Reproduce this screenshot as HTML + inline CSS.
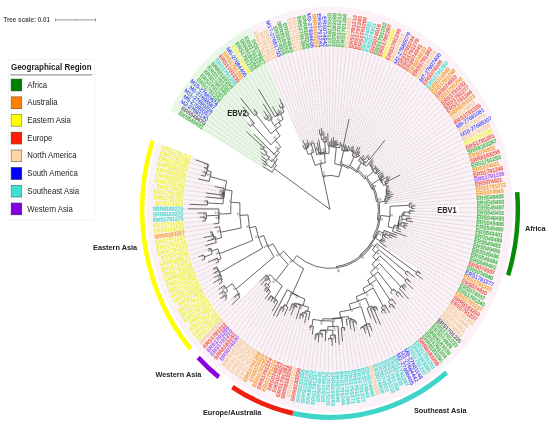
<!DOCTYPE html><html><head><meta charset="utf-8"><style>html,body{margin:0;padding:0;background:#fff;overflow:hidden}svg{display:block}text{font-family:"Liberation Sans",sans-serif}</style></head><body>
<svg width="550" height="425" viewBox="0 0 550 425">
<g transform="scale(0.9030,1)">
<path d="M336.41 149.63L276.86 27.08A202.70 202.70 0 0 1 282.31 24.54L338.19 148.79A66.46 66.46 0 0 0 336.41 149.63ZM337.90 148.26L282.18 24.59A202.70 202.70 0 0 1 287.69 22.21L339.73 147.47A67.06 67.06 0 0 0 337.90 148.26ZM339.45 146.94L287.56 22.26A202.70 202.70 0 0 1 293.14 20.03L341.32 146.19A67.66 67.66 0 0 0 339.45 146.94ZM341.27 146.21L293.01 20.09A202.70 202.70 0 0 1 298.66 18.02L343.15 145.52A67.66 67.66 0 0 0 341.27 146.21ZM342.90 144.94L298.52 18.07A202.70 202.70 0 0 1 304.22 16.17L344.82 144.30A68.29 68.29 0 0 0 342.90 144.94ZM344.78 144.31L304.09 16.21A202.70 202.70 0 0 1 309.84 14.48L346.71 143.73A68.29 68.29 0 0 0 344.78 144.31ZM349.83 154.80L309.71 14.52A202.70 202.70 0 0 1 315.51 12.95L351.46 154.36A56.79 56.79 0 0 0 349.83 154.80ZM350.39 150.35L315.37 12.98A202.70 202.70 0 0 1 321.22 11.58L352.15 149.93A60.94 60.94 0 0 0 350.39 150.35ZM352.11 149.94L321.08 11.62A202.70 202.70 0 0 1 326.96 10.39L353.88 149.57A60.94 60.94 0 0 0 352.11 149.94ZM354.40 152.47L326.82 10.41A202.70 202.70 0 0 1 332.74 9.36L356.09 152.17A57.99 57.99 0 0 0 354.40 152.47ZM353.26 135.16L332.60 9.38A202.70 202.70 0 0 1 338.54 8.49L355.46 134.83A75.23 75.23 0 0 0 353.26 135.16ZM355.41 134.84L338.40 8.51A202.70 202.70 0 0 1 344.37 7.80L357.63 134.58A75.23 75.23 0 0 0 355.41 134.84ZM358.06 139.18L344.23 7.81A202.70 202.70 0 0 1 350.21 7.27L360.14 138.99A70.61 70.61 0 0 0 358.06 139.18ZM360.29 141.61L350.07 7.28A202.70 202.70 0 0 1 356.07 6.92L362.30 141.48A67.99 67.99 0 0 0 360.29 141.61ZM362.47 145.97L355.93 6.92A202.70 202.70 0 0 1 361.94 6.73L364.35 145.91A63.50 63.50 0 0 0 362.47 145.97ZM364.30 145.91L361.80 6.73A202.70 202.70 0 0 1 367.81 6.71L366.19 145.91A63.50 63.50 0 0 0 364.30 145.91ZM366.14 146.27L367.66 6.71A202.70 202.70 0 0 1 373.67 6.87L368.01 146.32A63.14 63.14 0 0 0 366.14 146.27ZM368.00 145.35L373.53 6.86A202.70 202.70 0 0 1 379.53 7.19L369.90 145.45A64.10 64.10 0 0 0 368.00 145.35ZM369.90 144.85L379.39 7.18A202.70 202.70 0 0 1 385.38 7.68L371.81 145.01A64.70 64.70 0 0 0 369.90 144.85ZM371.82 144.41L385.24 7.67A202.70 202.70 0 0 1 391.21 8.34L373.75 144.63A65.30 65.30 0 0 0 371.82 144.41ZM373.70 144.62L391.07 8.33A202.70 202.70 0 0 1 397.02 9.17L375.62 144.89A65.30 65.30 0 0 0 373.70 144.62ZM375.15 147.62L396.88 9.15A202.70 202.70 0 0 1 402.80 10.17L376.97 147.93A62.54 62.54 0 0 0 375.15 147.62ZM377.26 146.18L402.66 10.15A202.70 202.70 0 0 1 408.55 11.34L379.13 146.56A64.32 64.32 0 0 0 377.26 146.18ZM379.08 146.55L408.41 11.31A202.70 202.70 0 0 1 414.27 12.67L380.94 146.98A64.32 64.32 0 0 0 379.08 146.55ZM380.19 149.82L414.13 12.63A202.70 202.70 0 0 1 419.94 14.16L381.95 150.28A61.38 61.38 0 0 0 380.19 149.82ZM382.23 149.11L419.81 14.12A202.70 202.70 0 0 1 425.57 15.82L384.01 149.64A62.58 62.58 0 0 0 382.23 149.11ZM383.97 149.62L425.44 15.78A202.70 202.70 0 0 1 431.15 17.64L385.73 150.20A62.58 62.58 0 0 0 383.97 149.62ZM385.50 150.75L431.02 17.60A202.70 202.70 0 0 1 436.67 19.63L387.23 151.37A61.98 61.98 0 0 0 385.50 150.75ZM387.57 150.34L436.54 19.58A202.70 202.70 0 0 1 442.14 21.77L389.31 151.03A63.06 63.06 0 0 0 387.57 150.34ZM389.61 150.16L442.01 21.71A202.70 202.70 0 0 1 447.54 24.07L391.36 150.90A63.98 63.98 0 0 0 389.61 150.16ZM391.32 150.88L447.41 24.01A202.70 202.70 0 0 1 452.87 26.52L393.04 151.67A63.98 63.98 0 0 0 391.32 150.88ZM392.35 153.03L452.74 26.46A202.70 202.70 0 0 1 458.12 29.13L394.01 153.85A62.46 62.46 0 0 0 392.35 153.03ZM393.30 155.14L458.00 29.06A202.70 202.70 0 0 1 463.30 31.88L394.89 155.99A60.99 60.99 0 0 0 393.30 155.14ZM395.53 154.74L463.18 31.82A202.70 202.70 0 0 1 468.40 34.79L397.14 155.66A62.39 62.39 0 0 0 395.53 154.74ZM397.10 155.64L468.28 34.72A202.70 202.70 0 0 1 473.41 37.85L398.68 156.60A62.39 62.39 0 0 0 397.10 155.64ZM396.36 160.20L473.29 37.77A202.70 202.70 0 0 1 478.33 41.04L397.81 161.14A58.11 58.11 0 0 0 396.36 160.20ZM399.65 158.32L478.22 40.96A202.70 202.70 0 0 1 483.16 44.38L401.15 159.36A61.47 61.47 0 0 0 399.65 158.32ZM402.01 158.06L483.04 44.30A202.70 202.70 0 0 1 487.89 47.86L403.52 159.17A63.03 63.03 0 0 0 402.01 158.06ZM403.48 159.14L487.77 47.77A202.70 202.70 0 0 1 492.51 51.47L404.96 160.29A63.03 63.03 0 0 0 403.48 159.14ZM406.91 157.80L492.40 51.38A202.70 202.70 0 0 1 497.03 55.21L408.42 159.05A66.20 66.20 0 0 0 406.91 157.80ZM408.38 159.02L496.92 55.12A202.70 202.70 0 0 1 501.44 59.09L409.86 160.31A66.20 66.20 0 0 0 408.38 159.02ZM404.93 165.70L501.33 58.99A202.70 202.70 0 0 1 505.73 63.09L406.21 166.89A58.90 58.90 0 0 0 404.93 165.70ZM409.30 163.60L505.63 62.99A202.70 202.70 0 0 1 509.91 67.21L410.64 164.92A63.41 63.41 0 0 0 409.30 163.60ZM410.61 164.89L509.81 67.11A202.70 202.70 0 0 1 513.97 71.45L411.91 166.25A63.41 63.41 0 0 0 410.61 164.89ZM411.44 166.62L513.87 71.35A202.70 202.70 0 0 1 517.90 75.81L412.69 168.01A62.81 62.81 0 0 0 411.44 166.62ZM414.38 166.46L517.80 75.70A202.70 202.70 0 0 1 521.70 80.28L415.63 167.93A65.10 65.10 0 0 0 414.38 166.46ZM415.60 167.89L521.61 80.17A202.70 202.70 0 0 1 525.37 84.85L416.81 169.40A65.10 65.10 0 0 0 415.60 167.89ZM415.85 170.09L525.28 84.74A202.70 202.70 0 0 1 528.91 89.54L416.99 171.61A63.91 63.91 0 0 0 415.85 170.09ZM416.96 171.57L528.83 89.42A202.70 202.70 0 0 1 532.31 94.32L418.06 173.11A63.91 63.91 0 0 0 416.96 171.57ZM417.31 173.58L532.23 94.20A202.70 202.70 0 0 1 535.57 99.20L418.35 175.13A63.03 63.03 0 0 0 417.31 173.58ZM418.29 175.12L535.50 99.08A202.70 202.70 0 0 1 538.69 104.17L419.29 176.70A62.99 62.99 0 0 0 418.29 175.12ZM421.41 175.35L538.62 104.05A202.70 202.70 0 0 1 541.67 109.23L422.40 177.03A65.51 65.51 0 0 0 421.41 175.35ZM422.37 176.99L541.60 109.10A202.70 202.70 0 0 1 544.49 114.37L423.31 178.69A65.51 65.51 0 0 0 422.37 176.99ZM422.30 179.18L544.42 114.24A202.70 202.70 0 0 1 547.17 119.59L423.17 180.87A64.38 64.38 0 0 0 422.30 179.18ZM428.17 178.35L547.10 119.46A202.70 202.70 0 0 1 549.69 124.89L429.06 180.22A69.99 69.99 0 0 0 428.17 178.35ZM429.04 180.18L549.63 124.76A202.70 202.70 0 0 1 552.06 130.26L429.88 182.07A69.99 69.99 0 0 0 429.04 180.18ZM427.37 183.09L552.00 130.13A202.70 202.70 0 0 1 554.27 135.69L428.12 184.94A67.28 67.28 0 0 0 427.37 183.09ZM427.42 185.16L554.22 135.56A202.70 202.70 0 0 1 556.33 141.19L428.11 187.01A66.54 66.54 0 0 0 427.42 185.16ZM427.68 187.11L556.28 141.06A202.70 202.70 0 0 1 558.22 146.74L428.32 188.97A66.11 66.11 0 0 0 427.68 187.11ZM428.30 188.92L558.18 146.61A202.70 202.70 0 0 1 559.95 152.35L428.88 190.79A66.11 66.11 0 0 0 428.30 188.92ZM428.29 190.92L559.91 152.21A202.70 202.70 0 0 1 561.52 158.01L428.81 192.79A65.51 65.51 0 0 0 428.29 190.92ZM429.26 192.63L561.49 157.87A202.70 202.70 0 0 1 562.93 163.70L429.73 194.53A65.98 65.98 0 0 0 429.26 192.63ZM429.72 194.48L562.90 163.56A202.70 202.70 0 0 1 564.17 169.44L430.13 196.39A65.98 65.98 0 0 0 429.72 194.48ZM429.70 196.43L564.14 169.30A202.70 202.70 0 0 1 565.24 175.21L430.06 198.34A65.55 65.55 0 0 0 429.70 196.43ZM430.05 198.30L565.22 175.07A202.70 202.70 0 0 1 566.15 181.01L430.35 200.22A65.55 65.55 0 0 0 430.05 198.30ZM427.49 200.58L566.13 180.87A202.70 202.70 0 0 1 566.89 186.83L427.72 202.42A62.66 62.66 0 0 0 427.49 200.58ZM426.51 202.51L566.87 186.69A202.70 202.70 0 0 1 567.46 192.67L426.69 204.33A61.45 61.45 0 0 0 426.51 202.51ZM453.16 202.07L567.44 192.53A202.70 202.70 0 0 1 567.86 198.52L453.34 204.68A88.02 88.02 0 0 0 453.16 202.07ZM455.85 204.48L567.85 198.38A202.70 202.70 0 0 1 568.09 204.39L455.95 207.16A90.53 90.53 0 0 0 455.85 204.48ZM455.95 207.10L568.08 204.24A202.70 202.70 0 0 1 568.15 210.25L455.98 209.78A90.53 90.53 0 0 0 455.95 207.10ZM453.27 209.71L568.15 210.11A202.70 202.70 0 0 1 568.04 216.12L453.22 212.31A87.82 87.82 0 0 0 453.27 209.71ZM453.23 212.25L568.04 215.98A202.70 202.70 0 0 1 567.76 221.98L453.10 214.85A87.82 87.82 0 0 0 453.23 212.25ZM446.67 214.39L567.77 221.84A202.70 202.70 0 0 1 567.31 227.83L446.49 216.80A81.38 81.38 0 0 0 446.67 214.39ZM450.39 217.10L567.32 227.69A202.70 202.70 0 0 1 566.69 233.67L450.13 219.61A85.29 85.29 0 0 0 450.39 217.10ZM450.13 219.55L566.71 233.53A202.70 202.70 0 0 1 565.90 239.48L449.79 222.06A85.29 85.29 0 0 0 450.13 219.55ZM444.63 221.23L565.92 239.34A202.70 202.70 0 0 1 564.95 245.27L444.24 223.57A80.06 80.06 0 0 0 444.63 221.23ZM447.63 224.12L564.97 245.14A202.70 202.70 0 0 1 563.83 251.03L447.16 226.55A83.49 83.49 0 0 0 447.63 224.12ZM447.17 226.49L563.86 250.90A202.70 202.70 0 0 1 562.54 256.76L446.62 228.91A83.49 83.49 0 0 0 447.17 226.49ZM441.30 227.57L562.57 256.62A202.70 202.70 0 0 1 561.08 262.45L440.73 229.81A78.00 78.00 0 0 0 441.30 227.57ZM439.59 229.45L561.12 262.31A202.70 202.70 0 0 1 559.47 268.09L438.96 231.64A76.80 76.80 0 0 0 439.59 229.45ZM435.16 230.43L559.51 267.95A202.70 202.70 0 0 1 557.69 273.68L434.50 232.49A72.81 72.81 0 0 0 435.16 230.43ZM425.81 229.54L557.73 273.54A202.70 202.70 0 0 1 555.75 279.22L425.19 231.32A63.63 63.63 0 0 0 425.81 229.54ZM431.86 233.71L555.79 279.08A202.70 202.70 0 0 1 553.64 284.70L431.11 235.67A70.72 70.72 0 0 0 431.86 233.71ZM431.12 235.62L553.70 284.56A202.70 202.70 0 0 1 551.39 290.11L430.32 237.56A70.72 70.72 0 0 0 431.12 235.62ZM425.89 235.59L551.44 289.98A202.70 202.70 0 0 1 548.97 295.46L425.09 237.37A65.87 65.87 0 0 0 425.89 235.59ZM423.62 236.63L549.03 295.33A202.70 202.70 0 0 1 546.40 300.74L422.79 238.34A64.23 64.23 0 0 0 423.62 236.63ZM423.12 238.46L546.47 300.61A202.70 202.70 0 0 1 543.68 305.94L422.23 240.16A64.58 64.58 0 0 0 423.12 238.46ZM422.25 240.12L543.75 305.81A202.70 202.70 0 0 1 540.82 311.06L421.32 241.79A64.58 64.58 0 0 0 422.25 240.12ZM420.82 241.45L540.89 310.93A202.70 202.70 0 0 1 537.80 316.09L419.85 243.07A63.98 63.98 0 0 0 420.82 241.45ZM463.07 269.74L537.87 315.97A202.70 202.70 0 0 1 534.64 321.03L461.24 272.60A114.76 114.76 0 0 0 463.07 269.74ZM461.28 272.54L534.72 320.92A202.70 202.70 0 0 1 531.34 325.88L459.37 275.35A114.76 114.76 0 0 0 461.28 272.54ZM451.23 269.55L531.42 325.77A202.70 202.70 0 0 1 527.89 330.64L449.41 272.06A104.77 104.77 0 0 0 451.23 269.55ZM449.45 272.00L527.98 330.52A202.70 202.70 0 0 1 524.32 335.29L447.56 274.47A104.77 104.77 0 0 0 449.45 272.00ZM451.43 277.44L524.40 335.18A202.70 202.70 0 0 1 520.61 339.84L449.38 279.96A109.65 109.65 0 0 0 451.43 277.44ZM449.43 279.90L520.70 339.73A202.70 202.70 0 0 1 516.77 344.27L447.30 282.36A109.65 109.65 0 0 0 449.43 279.90ZM448.36 283.20L516.86 344.17A202.70 202.70 0 0 1 512.80 348.60L446.14 285.62A111.00 111.00 0 0 0 448.36 283.20ZM446.19 285.57L512.89 348.49A202.70 202.70 0 0 1 508.71 352.80L443.90 287.93A111.00 111.00 0 0 0 446.19 285.57ZM443.53 287.45L508.81 352.70A202.70 202.70 0 0 1 504.50 356.89L441.18 289.73A110.40 110.40 0 0 0 443.53 287.45ZM442.05 290.54L504.60 356.79A202.70 202.70 0 0 1 500.17 360.85L439.61 292.77A111.58 111.58 0 0 0 442.05 290.54ZM439.67 292.72L500.27 360.76A202.70 202.70 0 0 1 495.73 364.69L437.16 294.88A111.58 111.58 0 0 0 439.67 292.72ZM433.80 290.76L495.84 364.60A202.70 202.70 0 0 1 491.18 368.40L431.36 292.75A106.27 106.27 0 0 0 433.80 290.76ZM435.36 297.68L491.29 368.31A202.70 202.70 0 0 1 486.52 371.97L432.71 299.72A112.61 112.61 0 0 0 435.36 297.68ZM435.31 303.06L486.64 371.88A202.70 202.70 0 0 1 481.77 375.41L432.50 305.09A116.84 116.84 0 0 0 435.31 303.06ZM432.57 305.05L481.88 375.32A202.70 202.70 0 0 1 476.91 378.70L429.70 306.99A116.84 116.84 0 0 0 432.57 305.05ZM427.86 304.06L477.03 378.62A202.70 202.70 0 0 1 471.96 381.86L425.03 305.87A113.38 113.38 0 0 0 427.86 304.06ZM426.78 308.54L472.08 381.78A202.70 202.70 0 0 1 466.93 384.87L423.81 310.32A116.58 116.58 0 0 0 426.78 308.54ZM423.88 310.28L467.05 384.80A202.70 202.70 0 0 1 461.80 387.73L420.87 311.97A116.58 116.58 0 0 0 423.88 310.28ZM417.62 305.80L461.93 387.67A202.70 202.70 0 0 1 456.60 390.45L414.74 307.31A109.62 109.62 0 0 0 417.62 305.80ZM414.81 307.27L456.73 390.38A202.70 202.70 0 0 1 451.32 393.01L411.89 308.70A109.62 109.62 0 0 0 414.81 307.27ZM411.70 308.12L451.45 392.95A202.70 202.70 0 0 1 445.97 395.42L408.76 309.45A109.02 109.02 0 0 0 411.70 308.12ZM408.03 307.59L446.10 395.36A202.70 202.70 0 0 1 440.55 397.67L405.10 308.81A107.03 107.03 0 0 0 408.03 307.59ZM410.72 322.66L440.68 397.62A202.70 202.70 0 0 1 435.07 399.77L407.35 323.96A121.98 121.98 0 0 0 410.72 322.66ZM407.63 324.49L435.20 399.72A202.70 202.70 0 0 1 429.53 401.70L404.20 325.69A122.58 122.58 0 0 0 407.63 324.49ZM404.47 326.23L429.67 401.66A202.70 202.70 0 0 1 423.94 403.48L400.99 327.34A123.18 123.18 0 0 0 404.47 326.23ZM401.07 327.31L424.07 403.44A202.70 202.70 0 0 1 418.30 405.09L397.56 328.32A123.18 123.18 0 0 0 401.07 327.31ZM395.51 320.42L418.43 405.05A202.70 202.70 0 0 1 412.61 406.54L392.21 321.26A115.02 115.02 0 0 0 395.51 320.42ZM392.29 321.24L412.75 406.50A202.70 202.70 0 0 1 406.88 407.82L388.96 321.99A115.02 115.02 0 0 0 392.29 321.24ZM388.61 319.95L407.02 407.79A202.70 202.70 0 0 1 401.12 408.94L385.33 320.59A112.95 112.95 0 0 0 388.61 319.95ZM385.12 319.02L401.26 408.91A202.70 202.70 0 0 1 395.33 409.89L381.87 319.55A111.37 111.37 0 0 0 385.12 319.02ZM383.08 327.14L395.47 409.86A202.70 202.70 0 0 1 389.51 410.67L379.58 327.61A119.05 119.05 0 0 0 383.08 327.14ZM379.67 327.60L389.65 410.65A202.70 202.70 0 0 1 383.68 411.28L376.16 327.97A119.05 119.05 0 0 0 379.67 327.60ZM376.07 326.16L383.82 411.27A202.70 202.70 0 0 1 377.83 411.72L372.61 326.42A117.24 117.24 0 0 0 376.07 326.16ZM373.21 334.90L377.97 411.71A202.70 202.70 0 0 1 371.96 412.00L369.49 335.07A125.74 125.74 0 0 0 373.21 334.90ZM369.68 338.29L372.11 411.99A202.70 202.70 0 0 1 366.10 412.10L365.86 338.36A128.96 128.96 0 0 0 369.68 338.29ZM365.95 338.36L366.24 412.10A202.70 202.70 0 0 1 360.23 412.03L362.13 338.32A128.96 128.96 0 0 0 365.95 338.36ZM362.41 330.77L360.37 412.04A202.70 202.70 0 0 1 354.37 411.80L358.81 330.63A121.41 121.41 0 0 0 362.41 330.77ZM358.73 333.71L354.51 411.80A202.70 202.70 0 0 1 348.51 411.39L355.05 333.46A124.49 124.49 0 0 0 358.73 333.71ZM355.02 334.76L348.65 411.40A202.70 202.70 0 0 1 342.67 410.82L351.31 334.40A125.80 125.80 0 0 0 355.02 334.76ZM351.40 334.41L342.81 410.83A202.70 202.70 0 0 1 336.85 410.07L347.70 333.94A125.80 125.80 0 0 0 351.40 334.41ZM348.81 326.73L336.99 410.09A202.70 202.70 0 0 1 331.05 409.16L345.34 326.19A118.50 118.50 0 0 0 348.81 326.73ZM345.42 326.20L331.19 409.18A202.70 202.70 0 0 1 325.29 408.08L341.97 325.56A118.50 118.50 0 0 0 345.42 326.20ZM344.74 312.21L325.42 408.11A202.70 202.70 0 0 1 319.55 406.84L341.70 311.55A104.87 104.87 0 0 0 344.74 312.21ZM341.22 313.97L319.69 406.87A202.70 202.70 0 0 1 313.86 405.42L338.13 313.20A107.34 107.34 0 0 0 341.22 313.97ZM337.59 315.54L313.99 405.46A202.70 202.70 0 0 1 308.20 403.85L334.46 314.67A109.73 109.73 0 0 0 337.59 315.54ZM334.53 314.69L308.34 403.89A202.70 202.70 0 0 1 302.60 402.11L331.42 313.72A109.73 109.73 0 0 0 334.53 314.69ZM334.10 305.74L302.73 402.15A202.70 202.70 0 0 1 297.05 400.21L331.26 304.77A101.31 101.31 0 0 0 334.10 305.74ZM330.52 307.04L297.18 400.26A202.70 202.70 0 0 1 291.55 398.15L327.64 305.97A103.70 103.70 0 0 0 330.52 307.04ZM327.71 305.99L291.68 398.20A202.70 202.70 0 0 1 286.12 395.93L324.86 304.83A103.70 103.70 0 0 0 327.71 305.99ZM325.16 304.31L286.25 395.99A202.70 202.70 0 0 1 280.75 393.56L322.37 303.07A103.10 103.10 0 0 0 325.16 304.31ZM320.32 307.71L280.88 393.62A202.70 202.70 0 0 1 275.46 391.03L317.42 306.33A108.18 108.18 0 0 0 320.32 307.71ZM316.08 309.21L275.58 391.09A202.70 202.70 0 0 1 270.24 388.35L313.15 307.70A111.35 111.35 0 0 0 316.08 309.21ZM313.22 307.74L270.36 388.41A202.70 202.70 0 0 1 265.10 385.52L310.32 306.14A111.35 111.35 0 0 0 313.22 307.74ZM319.34 290.45L265.22 385.59A202.70 202.70 0 0 1 260.04 382.54L316.96 289.04A93.24 93.24 0 0 0 319.34 290.45ZM309.01 302.25L260.16 382.61A202.70 202.70 0 0 1 255.07 379.41L306.28 300.54A108.66 108.66 0 0 0 309.01 302.25ZM306.34 300.58L255.19 379.49A202.70 202.70 0 0 1 250.20 376.15L303.67 298.79A108.66 108.66 0 0 0 306.34 300.58ZM303.73 298.83L250.31 376.23A202.70 202.70 0 0 1 245.42 372.74L301.10 296.96A108.66 108.66 0 0 0 303.73 298.83ZM301.17 297.01L245.53 372.82A202.70 202.70 0 0 1 240.74 369.20L298.60 295.06A108.66 108.66 0 0 0 301.17 297.01ZM300.67 292.53L240.85 369.28A202.70 202.70 0 0 1 236.17 365.52L298.23 290.57A105.39 105.39 0 0 0 300.67 292.53ZM298.29 290.62L236.28 365.61A202.70 202.70 0 0 1 231.70 361.71L295.91 288.59A105.39 105.39 0 0 0 298.29 290.62ZM296.36 288.19L231.81 361.81A202.70 202.70 0 0 1 227.35 357.78L294.06 286.11A104.79 104.79 0 0 0 296.36 288.19ZM295.93 284.20L227.45 357.87A202.70 202.70 0 0 1 223.11 353.72L293.74 282.10A102.11 102.11 0 0 0 295.93 284.20ZM296.91 278.99L223.21 353.82A202.70 202.70 0 0 1 218.99 349.54L294.88 276.92A97.67 97.67 0 0 0 296.91 278.99ZM295.82 276.12L219.09 349.64A202.70 202.70 0 0 1 215.00 345.24L293.87 274.03A96.44 96.44 0 0 0 295.82 276.12ZM267.04 298.38L215.09 345.34A202.70 202.70 0 0 1 211.13 340.83L264.44 295.42A132.67 132.67 0 0 0 267.04 298.38ZM264.50 295.49L211.22 340.93A202.70 202.70 0 0 1 207.39 336.30L262.00 292.46A132.67 132.67 0 0 0 264.50 295.49ZM252.61 300.12L207.48 336.41A202.70 202.70 0 0 1 203.78 331.68L249.97 296.74A144.78 144.78 0 0 0 252.61 300.12ZM250.04 296.82L203.87 331.79A202.70 202.70 0 0 1 200.31 326.94L247.49 293.36A144.78 144.78 0 0 0 250.04 296.82ZM248.86 292.51L200.39 327.06A202.70 202.70 0 0 1 196.98 322.11L246.45 289.01A143.17 143.17 0 0 0 248.86 292.51ZM249.39 287.17L197.06 322.23A202.70 202.70 0 0 1 193.78 317.19L247.14 283.69A139.70 139.70 0 0 0 249.39 287.17ZM247.31 283.70L193.86 317.31A202.70 202.70 0 0 1 190.74 312.18L245.16 280.16A139.56 139.56 0 0 0 247.31 283.70ZM245.21 280.24L190.81 312.30A202.70 202.70 0 0 1 187.83 307.08L243.16 276.65A139.56 139.56 0 0 0 245.21 280.24ZM244.27 276.15L187.90 307.20A202.70 202.70 0 0 1 185.08 301.89L242.34 272.53A138.35 138.35 0 0 0 244.27 276.15ZM242.38 272.62L185.15 302.02A202.70 202.70 0 0 1 182.48 296.63L240.56 268.94A138.35 138.35 0 0 0 242.38 272.62ZM240.61 269.03L182.54 296.76A202.70 202.70 0 0 1 180.03 291.30L238.89 265.30A138.35 138.35 0 0 0 240.61 269.03ZM242.96 263.61L180.09 291.43A202.70 202.70 0 0 1 177.74 285.90L241.41 259.95A133.95 133.95 0 0 0 242.96 263.61ZM241.44 260.04L177.79 286.03A202.70 202.70 0 0 1 175.60 280.43L240.00 256.34A133.95 133.95 0 0 0 241.44 260.04ZM227.84 261.00L175.65 280.57A202.70 202.70 0 0 1 173.63 274.91L226.37 256.90A146.97 146.97 0 0 0 227.84 261.00ZM226.40 256.99L173.67 275.04A202.70 202.70 0 0 1 171.81 269.33L225.05 252.85A146.97 146.97 0 0 0 226.40 256.99ZM233.88 250.22L171.85 269.46A202.70 202.70 0 0 1 170.16 263.70L232.73 246.30A137.75 137.75 0 0 0 233.88 250.22ZM239.98 244.38L170.19 263.83A202.70 202.70 0 0 1 168.67 258.02L239.00 240.64A130.25 130.25 0 0 0 239.98 244.38ZM237.49 241.11L168.70 258.16A202.70 202.70 0 0 1 167.34 252.30L236.60 237.30A131.83 131.83 0 0 0 237.49 241.11ZM236.03 237.52L167.37 252.44A202.70 202.70 0 0 1 166.18 246.55L235.26 233.67A132.43 132.43 0 0 0 236.03 237.52ZM235.28 233.76L166.21 246.69A202.70 202.70 0 0 1 165.19 240.77L234.61 229.89A132.43 132.43 0 0 0 235.28 233.76ZM243.58 228.58L165.21 240.91A202.70 202.70 0 0 1 164.37 234.96L243.06 224.96A123.37 123.37 0 0 0 243.58 228.58ZM242.74 225.08L164.38 235.10A202.70 202.70 0 0 1 163.71 229.13L242.33 221.44A123.70 123.70 0 0 0 242.74 225.08ZM227.43 222.99L163.72 229.27A202.70 202.70 0 0 1 163.22 223.28L227.09 218.90A138.69 138.69 0 0 0 227.43 222.99ZM227.09 218.99L163.23 223.42A202.70 202.70 0 0 1 162.91 217.42L226.87 214.89A138.69 138.69 0 0 0 227.09 218.99ZM228.46 214.92L162.91 217.56A202.70 202.70 0 0 1 162.76 211.55L228.35 210.86A137.10 137.10 0 0 0 228.46 214.92ZM242.35 210.79L162.76 211.69A202.70 202.70 0 0 1 162.78 205.68L242.37 207.14A123.10 123.10 0 0 0 242.35 210.79ZM229.66 207.00L162.78 205.82A202.70 202.70 0 0 1 162.98 199.82L229.79 202.98A135.81 135.81 0 0 0 229.66 207.00ZM229.79 203.07L162.97 199.96A202.70 202.70 0 0 1 163.34 193.96L230.03 199.06A135.81 135.81 0 0 0 229.79 203.07ZM245.99 200.36L163.33 194.10A202.70 202.70 0 0 1 163.87 188.12L246.31 196.82A119.80 119.80 0 0 0 245.99 200.36ZM245.71 196.84L163.85 188.26A202.70 202.70 0 0 1 164.57 182.29L246.13 193.30A120.40 120.40 0 0 0 245.71 196.84ZM246.12 193.38L164.55 182.43A202.70 202.70 0 0 1 165.44 176.49L246.65 189.85A120.40 120.40 0 0 0 246.12 193.38ZM247.82 190.13L165.42 176.63A202.70 202.70 0 0 1 166.47 170.71L248.44 186.65A119.20 119.20 0 0 0 247.82 190.13ZM231.18 183.39L166.45 170.85A202.70 202.70 0 0 1 167.68 164.97L232.01 179.42A136.76 136.76 0 0 0 231.18 183.39ZM226.73 178.34L167.65 165.11A202.70 202.70 0 0 1 169.05 159.26L227.71 174.24A142.15 142.15 0 0 0 226.73 178.34ZM227.69 174.33L169.01 159.40A202.70 202.70 0 0 1 170.58 153.60L228.79 170.27A142.15 142.15 0 0 0 227.69 174.33ZM228.76 170.36L170.54 153.73A202.70 202.70 0 0 1 172.28 147.98L229.98 166.33A142.15 142.15 0 0 0 228.76 170.36ZM229.95 166.42L172.24 148.11A202.70 202.70 0 0 1 174.14 142.41L231.28 162.42A142.15 142.15 0 0 0 229.95 166.42Z" fill="#faf2f7"/>
<path d="M300.88 173.24L188.59 110.35A202.70 202.70 0 0 1 191.61 105.16L301.98 171.34A74.00 74.00 0 0 0 300.88 173.24ZM293.67 166.43L191.54 105.28A202.70 202.70 0 0 1 194.70 100.17L294.98 164.32A83.66 83.66 0 0 0 293.67 166.43ZM294.94 164.37L194.62 100.29A202.70 202.70 0 0 1 197.93 95.27L296.31 162.30A83.66 83.66 0 0 0 294.94 164.37ZM295.12 161.56L197.85 95.39A202.70 202.70 0 0 1 201.31 90.47L296.57 159.50A85.05 85.05 0 0 0 295.12 161.56ZM292.34 156.50L201.22 90.58A202.70 202.70 0 0 1 204.82 85.77L293.94 154.36A90.24 90.24 0 0 0 292.34 156.50ZM289.52 151.04L204.73 85.88A202.70 202.70 0 0 1 208.46 81.17L291.28 148.82A95.76 95.76 0 0 0 289.52 151.04ZM291.24 148.87L208.37 81.28A202.70 202.70 0 0 1 212.24 76.68L293.07 146.70A95.76 95.76 0 0 0 291.24 148.87ZM302.68 155.10L212.15 76.79A202.70 202.70 0 0 1 216.15 72.30L304.31 153.26A83.00 83.00 0 0 0 302.68 155.10ZM276.39 127.73L216.05 72.40A202.70 202.70 0 0 1 220.18 68.03L278.85 125.12A120.84 120.84 0 0 0 276.39 127.73ZM271.37 117.98L220.08 68.14A202.70 202.70 0 0 1 224.33 63.89L274.12 115.23A131.18 131.18 0 0 0 271.37 117.98ZM274.06 115.29L224.23 63.99A202.70 202.70 0 0 1 228.60 59.86L276.89 112.62A131.18 131.18 0 0 0 274.06 115.29ZM280.75 116.97L228.50 59.96A202.70 202.70 0 0 1 232.99 55.97L283.52 114.50A125.37 125.37 0 0 0 280.75 116.97ZM283.46 114.56L232.88 56.06A202.70 202.70 0 0 1 237.49 52.20L286.31 112.17A125.37 125.37 0 0 0 283.46 114.56ZM293.14 120.69L237.38 52.29A202.70 202.70 0 0 1 242.09 48.56L295.80 118.59A114.44 114.44 0 0 0 293.14 120.69ZM295.74 118.64L241.98 48.64A202.70 202.70 0 0 1 246.80 45.05L298.46 116.61A114.44 114.44 0 0 0 295.74 118.64ZM300.06 118.96L246.68 45.14A202.70 202.70 0 0 1 251.61 41.69L302.77 117.06A111.60 111.60 0 0 0 300.06 118.96ZM303.10 117.68L251.49 41.77A202.70 202.70 0 0 1 256.51 38.46L305.85 115.88A110.90 110.90 0 0 0 303.10 117.68ZM305.46 115.41L256.39 38.54A202.70 202.70 0 0 1 261.50 35.38L308.27 113.68A111.50 111.50 0 0 0 305.46 115.41ZM308.20 113.72L261.38 35.45A202.70 202.70 0 0 1 266.58 32.45L311.06 112.06A111.50 111.50 0 0 0 308.20 113.72ZM309.27 109.02L266.46 32.51A202.70 202.70 0 0 1 271.75 29.66L312.28 107.40A115.03 115.03 0 0 0 309.27 109.02ZM312.20 107.44L271.62 29.72A202.70 202.70 0 0 1 276.99 27.02L315.25 105.90A115.03 115.03 0 0 0 312.20 107.44Z" fill="#e9f8e6"/>
<path d="M290.18 165.77L225.73 128.41M289.77 162.56L228.13 124.40M288.66 158.73L230.65 120.46M288.52 155.38L233.28 116.59M287.71 151.38L236.02 112.80M287.07 147.29L238.87 109.10M272.06 130.89L241.83 105.48M280.35 133.55L244.89 101.94M273.13 122.19L248.05 98.50M268.62 112.48L251.31 95.14M268.04 106.08L254.66 91.89M265.76 97.32L258.11 88.73M280.61 108.27L261.65 85.67M291.64 116.06L265.28 82.72M291.38 109.95L268.98 79.87M290.85 102.93L272.77 77.14M285.72 88.29L276.64 74.51M301.34 105.60L280.58 71.99M308.38 110.71L284.60 69.60M308.41 103.83L288.68 67.31M309.24 97.75L292.82 65.15M335.02 144.34L297.03 63.11M335.07 139.21L301.29 61.19M338.64 142.21L305.61 59.39M339.64 138.82L309.98 57.73M342.85 141.60L314.39 56.18M344.91 141.24L318.85 54.77M347.08 141.39L323.34 53.49M350.29 146.04L327.87 52.33M351.25 141.41L332.44 51.31M352.75 138.38L337.03 50.42M353.37 128.37L341.64 49.66M355.57 126.82L346.27 49.04M358.33 130.61L350.92 48.55M360.91 135.16L355.59 48.20M362.96 131.98L360.26 47.98M365.23 141.05L364.93 47.90M367.31 137.20L369.61 47.95M369.47 136.01L374.28 48.14M371.32 139.42L378.94 48.46M373.22 140.65L383.60 48.92M374.97 142.60L388.23 49.52M377.24 140.89L392.85 50.24M378.83 143.19L397.45 51.10M386.73 117.84L402.02 52.09M382.86 143.27L406.56 53.22M383.59 147.79L411.06 54.47M386.65 144.38L415.53 55.86M388.08 146.26L419.95 57.37M389.17 148.82L424.33 59.02M391.67 147.76L428.66 60.78M393.03 149.42L432.93 62.67M396.99 145.74L437.15 64.69M399.13 146.09L441.31 66.83M399.24 150.10L445.40 69.08M398.99 154.32L449.43 71.45M400.04 156.12L453.39 73.94M402.15 156.30L457.27 76.55M403.99 156.95L461.08 79.26M408.62 154.08L464.81 82.08M409.54 156.16L468.45 85.01M426.81 139.52L472.01 88.05M414.01 157.23L475.48 91.18M412.13 162.07L478.86 94.42M412.31 164.56L482.14 97.75M414.05 165.52L485.32 101.17M417.07 165.44L488.40 104.69M418.13 167.10L491.38 108.29M418.89 168.98L494.26 111.98M421.52 169.49L497.02 115.75M423.12 170.82L499.68 119.60M425.25 171.85L502.22 123.52M424.00 174.96L504.65 127.51M426.40 175.88L506.96 131.58M430.97 175.80L509.16 135.71M431.09 178.11L511.23 139.90M444.12 174.65L513.18 144.15M430.60 182.85L515.01 148.45M430.71 184.98L516.71 152.81M431.58 186.82L518.28 157.21M430.65 189.22L519.73 161.65M432.61 190.73L521.05 166.14M432.02 192.95L522.23 170.66M436.73 193.96L523.29 175.22M435.79 196.29L524.21 179.80M433.33 198.77L525.00 184.41M431.20 201.04L525.66 189.04M430.00 203.09L526.18 193.68M456.63 203.14L526.57 198.34M459.31 205.68L526.82 203.01M460.13 208.40L526.94 207.69M460.11 211.14L526.92 212.36M456.19 213.69L526.77 217.03M455.11 216.25L526.48 221.70M457.02 219.07L526.06 226.36M458.45 221.95L525.50 231.00M452.51 223.73L524.81 235.62M450.63 225.96L523.98 240.23M450.61 228.53L523.02 244.80M444.85 229.67L521.93 249.35M445.22 232.24L520.71 253.86M450.99 236.60L519.36 258.34M440.62 235.72L517.87 262.77M440.23 238.04L516.27 267.16M434.87 238.32L514.53 271.50M431.09 239.00L512.67 275.79M426.56 239.12L510.69 280.03M428.07 242.12L508.58 284.20M425.39 242.97L506.36 288.31M429.20 247.57L504.01 292.36M466.57 273.99L501.55 296.34M468.87 279.76L498.98 300.24M459.79 277.65L496.29 304.07M452.31 276.16L493.50 307.81M455.65 282.98L490.60 311.48M458.25 289.68L487.59 315.06M449.68 286.64L484.48 318.55M449.76 291.33L481.27 321.95M453.21 299.77L477.96 325.26M447.14 298.54L474.56 328.46M441.66 297.55L471.07 331.57M435.02 294.75L467.49 334.58M438.91 305.05L463.82 337.48M437.70 309.34L460.07 340.28M432.98 308.74L456.25 342.96M432.05 313.74L452.34 345.53M426.67 311.74L448.36 347.99M424.20 314.39L444.32 350.33M418.73 311.43L440.20 352.56M422.00 325.79L436.03 354.66M417.26 324.39L431.80 356.64M411.23 319.41L427.50 358.50M412.40 332.10L423.16 360.24M410.32 337.68L418.77 361.84M405.12 334.29L414.34 363.32M399.99 330.17L409.86 364.67M395.02 325.40L405.35 365.89M393.03 332.33L400.80 366.98M388.97 330.57L396.22 367.94M384.69 326.53L391.62 368.76M381.86 331.29L387.00 369.46M379.45 342.42L382.36 370.01M375.82 345.79L377.70 370.43M371.77 343.95L373.03 370.72M367.93 346.96L368.36 370.87M364.01 341.26L363.68 370.89M360.16 342.06L359.01 370.77M356.55 338.55L354.34 370.52M352.31 343.36L349.68 370.13M348.66 341.12L345.04 369.60M345.59 335.90L340.41 368.95M343.12 328.98L335.80 368.16M341.21 321.13L331.22 367.23M337.07 324.09L326.66 366.17M334.93 319.04L322.14 364.98M331.84 317.88L317.65 363.67M327.59 320.15L313.21 362.22M328.19 308.88L308.81 360.64M321.82 316.37L304.45 358.94M320.16 311.84L300.15 357.11M314.45 316.28L295.90 355.16M312.28 313.00L291.71 353.08M305.83 317.73L287.58 350.89M302.20 316.84L283.52 348.58M300.90 312.12L279.52 346.15M302.47 303.46L275.60 343.60M299.10 302.55L271.75 340.94M295.72 301.53L267.99 338.18M292.84 299.78L264.30 335.30M294.38 292.79L260.70 332.32M292.23 290.44L257.18 329.24M292.06 286.05L253.76 326.05M287.99 285.75L250.43 322.77M287.08 282.29L247.20 319.39M255.83 305.59L244.06 315.92M258.03 298.29L241.03 312.37M247.93 301.06L238.10 308.72M243.00 299.32L235.28 304.99M241.72 294.86L232.57 301.18M241.25 289.98L229.96 297.30M241.57 284.77L227.48 293.34M235.39 283.45L225.10 289.31M235.77 278.35L222.85 285.22M235.35 273.81L220.72 281.06M234.74 269.46L218.70 276.84M238.18 263.48L216.81 272.56M229.34 262.64L215.05 268.23M222.65 260.54L213.41 263.85M218.89 257.15L211.89 259.43M229.24 249.45L210.51 254.96M226.46 245.93L209.25 250.46M228.52 241.19L208.13 245.92M224.39 237.87L207.14 241.35M231.63 232.40L206.28 236.75M236.60 227.72L205.56 232.14M235.48 224.06L204.97 227.50M223.03 221.30L204.51 222.84M220.10 217.31L204.19 218.18M217.79 213.16L204.00 213.51M207.23 208.84L203.95 208.83M209.02 204.32L204.03 204.16M226.78 200.87L204.25 199.49M226.72 196.83L204.61 194.83M227.05 192.81L205.10 190.18M245.33 191.46L205.72 185.54M236.85 186.37L206.48 180.93M218.44 178.65L207.37 176.34M221.37 174.88L208.39 171.78M225.09 171.45L209.55 167.25M224.73 166.94L210.83 162.75M215.68 159.44L212.25 158.29" stroke="#a9a6a9" stroke-width="0.6" stroke-dasharray="0.9 1.1" fill="none"/>
<path d="M301.43 172.29L291.05 166.27M294.32 165.37L290.62 163.08M295.62 163.33L289.49 159.28M300.57 167.93L294.96 164.34M294.32 165.37A83.66 83.66 0 0 1 295.62 163.33M295.84 160.52L289.34 155.96M293.13 155.43L288.51 151.98M290.39 149.92L287.86 147.91M292.15 147.78L272.83 131.54M295.54 152.34L291.26 148.84M290.39 149.92A95.76 95.76 0 0 1 292.15 147.78M298.41 157.06L294.32 153.87M293.13 155.43A90.24 90.24 0 0 1 295.54 152.34M301.16 161.78L297.10 158.77M295.84 160.52A85.05 85.05 0 0 1 298.41 157.06M303.49 154.17L281.09 134.21M277.61 126.42L273.86 122.87M272.74 116.59L269.33 113.18M275.46 113.95L268.73 106.80M281.29 122.68L274.09 115.26M272.74 116.59A131.18 131.18 0 0 1 275.46 113.95M299.96 144.79L279.43 124.53M277.61 126.42A120.84 120.84 0 0 1 281.29 122.68M282.13 115.73L266.42 98.07M284.87 113.35L281.25 109.04M300.08 133.73L283.49 114.53M282.13 115.73A125.37 125.37 0 0 1 284.87 113.35M294.46 119.63L292.26 116.84M297.09 117.61L291.98 110.75M297.50 120.87L295.77 118.61M294.46 119.63A114.44 114.44 0 0 1 297.09 117.61M301.41 118.00L291.42 103.75M303.93 125.54L299.44 119.42M297.50 120.87A111.60 111.60 0 0 1 301.41 118.00M304.47 116.77L286.26 89.13M306.86 114.53L301.87 106.45M309.63 112.88L308.88 111.58M308.54 114.21L308.24 113.70M306.86 114.53A111.50 111.50 0 0 1 309.63 112.88M306.97 116.23L306.49 115.47M304.47 116.77A110.90 110.90 0 0 1 308.54 114.21M310.77 108.20L308.88 104.70M313.72 106.66L309.69 98.65M314.57 111.88L312.24 107.42M310.77 108.20A115.03 115.03 0 0 1 313.72 106.66M313.71 119.18L310.72 113.98M306.97 116.23A110.00 110.00 0 0 1 314.57 111.88M310.91 125.58L308.73 122.23M303.93 125.54A104.00 104.00 0 0 1 313.71 119.18M310.16 135.86L305.36 129.47M300.08 133.73A100.00 100.00 0 0 1 310.91 125.58M310.82 146.91L304.90 140.14M299.96 144.79A92.00 92.00 0 0 1 310.16 135.86M309.15 152.56L307.04 150.43M303.49 154.17A83.00 83.00 0 0 1 310.82 146.91M307.25 158.98L304.98 157.02M301.16 161.78A80.00 80.00 0 0 1 309.15 152.56M306.15 165.13L303.75 163.33M300.57 167.93A77.00 77.00 0 0 1 307.25 158.98M365.45 209.40L303.69 168.64M301.43 172.29A74.00 74.00 0 0 1 306.15 165.13M337.29 149.20L335.44 145.24M338.81 147.86L335.46 140.13M340.38 146.56L339.01 143.14M342.21 145.86L339.98 139.76M341.51 146.76L341.29 146.20M340.38 146.56A67.66 67.66 0 0 1 342.21 145.86M340.38 147.85L340.15 147.30M338.81 147.86A67.06 67.06 0 0 1 341.51 146.76M341.46 154.52L338.83 148.51M337.29 149.20A66.46 66.46 0 0 1 340.38 147.85M343.86 144.61L343.17 142.54M345.74 144.01L345.20 142.20M347.34 152.31L344.80 144.30M343.86 144.61A68.29 68.29 0 0 1 345.74 144.01M348.91 165.41L344.37 153.34M341.46 154.52A59.89 59.89 0 0 1 347.34 152.31M350.64 154.57L347.34 142.35M351.27 150.13L350.52 147.01M352.99 149.75L351.46 142.39M352.77 152.81L352.13 149.93M351.27 150.13A60.94 60.94 0 0 1 352.99 149.75M355.24 152.31L352.93 139.36M354.12 153.14L354.01 152.55M352.77 152.81A57.99 57.99 0 0 1 355.24 152.31M354.36 134.99L353.52 129.36M356.52 134.70L355.69 127.81M356.05 139.42L355.44 134.84M354.36 134.99A75.23 75.23 0 0 1 356.52 134.70M359.10 139.07L358.42 131.60M357.87 141.84L357.57 139.23M356.05 139.42A70.61 70.61 0 0 1 359.10 139.07M361.30 141.54L360.97 136.16M360.49 152.22L359.58 141.67M357.87 141.84A67.99 67.99 0 0 1 361.30 141.54M357.38 153.18L357.30 152.59M354.12 153.14A57.39 57.39 0 0 1 360.49 152.22M354.13 154.43L353.99 153.77M350.64 154.57A56.79 56.79 0 0 1 357.38 153.18M363.41 145.93L362.99 132.98M365.25 145.90L365.23 142.05M364.46 153.29L364.33 145.91M363.41 145.93A63.50 63.50 0 0 1 365.25 145.90M360.27 162.69L359.26 153.62M354.13 154.43A56.12 56.12 0 0 1 364.46 153.29M357.53 176.33L354.50 163.69M348.91 165.41A47.00 47.00 0 0 1 360.27 162.69M367.07 146.28L367.28 138.20M368.95 145.39L369.41 137.00M370.86 144.92L371.23 140.41M372.79 144.51L373.11 141.64M374.66 144.75L374.83 143.59M373.65 145.22L373.73 144.62M372.79 144.51A65.30 65.30 0 0 1 374.66 144.75M372.19 145.65L372.25 145.06M370.86 144.92A64.70 64.70 0 0 1 373.65 145.22M370.50 146.47L370.57 145.50M368.95 145.39A64.10 64.10 0 0 1 372.19 145.65M368.75 146.95L368.79 146.35M367.07 146.28A63.14 63.14 0 0 1 370.50 146.47M376.06 147.77L377.07 141.88M370.58 163.69L372.42 147.25M368.75 146.95A62.54 62.54 0 0 1 376.06 147.77M378.19 146.36L378.64 144.17M380.01 146.75L386.51 118.82M378.35 150.01L379.10 146.55M378.19 146.36A64.32 64.32 0 0 1 380.01 146.75M381.07 150.04L382.60 144.23M383.12 149.37L383.30 148.75M384.85 149.90L386.34 145.33M383.81 150.20L383.99 149.63M383.12 149.37A62.58 62.58 0 0 1 384.85 149.90M386.36 151.06L387.75 147.20M384.90 151.18L385.09 150.62M383.81 150.20A61.98 61.98 0 0 1 386.36 151.06M382.82 151.16L383.00 150.58M381.07 150.04A61.38 61.38 0 0 1 384.90 151.18M377.29 163.40L380.60 150.54M378.35 150.01A60.78 60.78 0 0 1 382.82 151.16M388.44 150.68L388.80 149.75M390.49 150.52L391.27 148.68M392.18 151.27L392.62 150.33M390.97 151.73L391.34 150.89M390.49 150.52A63.98 63.98 0 0 1 392.18 151.27M389.48 151.75L389.71 151.19M388.44 150.68A63.06 63.06 0 0 1 390.97 151.73M393.18 153.43L396.55 146.64M389.96 155.59L391.34 152.56M389.48 151.75A62.46 62.46 0 0 1 393.18 153.43M394.10 155.56L398.66 146.97M396.33 155.20L398.75 150.97M397.89 156.11L398.47 155.17M396.41 156.85L397.12 155.65M396.33 155.20A62.39 62.39 0 0 1 397.89 156.11M394.35 157.81L395.26 156.19M394.10 155.56A60.99 60.99 0 0 1 396.41 156.85M387.60 165.69L392.18 156.65M389.96 155.59A59.14 59.14 0 0 1 394.35 157.81M397.09 160.66L399.50 156.96M400.40 158.83L401.58 157.12M402.77 158.61L403.40 157.75M404.22 159.71L408.01 154.86M402.56 160.40L403.50 159.16M402.77 158.61A63.03 63.03 0 0 1 404.22 159.71M401.14 160.09L401.49 159.60M400.40 158.83A61.47 61.47 0 0 1 402.56 160.40M407.67 158.42L408.90 156.93M409.13 159.66L426.15 140.27M404.95 163.08L408.40 159.03M407.67 158.42A66.20 66.20 0 0 1 409.13 159.66M401.85 163.10L403.07 161.55M401.14 160.09A60.87 60.87 0 0 1 404.95 163.08M405.58 166.29L413.33 157.96M403.23 165.25L403.75 164.66M401.85 163.10A58.90 58.90 0 0 1 405.58 166.29M395.68 168.95L400.24 162.86M397.09 160.66A58.11 58.11 0 0 1 403.23 165.25M409.97 164.26L411.43 162.78M411.26 165.56L411.59 165.25M410.20 165.33L410.62 164.90M409.97 164.26A63.41 63.41 0 0 1 411.26 165.56M412.07 167.31L413.31 166.19M410.71 166.72L411.14 166.31M410.20 165.33A62.81 62.81 0 0 1 412.07 167.31M415.01 167.19L416.31 166.09M416.21 168.64L417.35 167.73M413.39 169.76L415.62 167.91M415.01 167.19A65.10 65.10 0 0 1 416.21 168.64M411.62 168.61L412.07 168.22M410.71 166.72A62.21 62.21 0 0 1 413.39 169.76M416.42 170.85L418.09 169.59M417.52 172.34L420.71 170.07M416.26 172.11L416.98 171.59M416.42 170.85A63.91 63.91 0 0 1 417.52 172.34M417.83 174.35L422.29 171.37M415.90 174.04L417.06 173.22M416.26 172.11A63.03 63.03 0 0 1 417.83 174.35M406.29 177.21L413.84 171.27M411.62 168.61A61.61 61.61 0 0 1 415.90 174.04M418.80 175.90L424.40 172.38M421.91 176.19L423.14 175.46M422.85 177.84L425.53 176.36M421.41 177.56L422.38 177.01M421.91 176.19A65.51 65.51 0 0 1 422.85 177.84M422.74 180.02L430.08 176.26M421.56 179.07L422.09 178.78M421.41 177.56A64.38 64.38 0 0 1 422.74 180.02M428.62 179.28L430.19 178.54M429.47 181.12L443.20 175.06M426.59 181.33L429.05 180.20M428.62 179.28A69.99 69.99 0 0 1 429.47 181.12M427.75 184.01L429.68 183.22M426.51 182.96L427.18 182.66M426.59 181.33A67.28 67.28 0 0 1 427.75 184.01M427.77 186.08L429.78 185.33M424.60 185.54L427.16 184.51M426.51 182.96A66.54 66.54 0 0 1 427.77 186.08M422.46 182.60L423.17 182.26M421.56 179.07A63.78 63.78 0 0 1 424.60 185.54M412.40 183.75L420.73 179.20M418.80 175.90A62.99 62.99 0 0 1 422.46 182.60M428.01 188.04L430.63 187.14M428.60 189.86L429.70 189.52M427.74 189.13L428.31 188.94M428.01 188.04A66.11 66.11 0 0 1 428.60 189.86M428.56 191.85L431.64 191.00M427.59 190.66L428.17 190.49M427.74 189.13A65.51 65.51 0 0 1 428.56 191.85M429.50 193.57L431.05 193.19M429.93 195.44L435.76 194.17M428.68 194.75L429.72 194.50M429.50 193.57A65.98 65.98 0 0 1 429.93 195.44M427.59 192.85L428.17 192.69M427.59 190.66A64.91 64.91 0 0 1 428.68 194.75M429.88 197.39L434.81 196.47M430.21 199.26L432.35 198.92M428.83 198.53L430.05 198.32M429.88 197.39A65.55 65.55 0 0 1 430.21 199.26M426.67 196.03L428.27 195.68M427.59 192.85A64.31 64.31 0 0 1 428.83 198.53M427.61 201.50L430.21 201.17M426.00 198.96L427.20 198.75M426.67 196.03A62.66 62.66 0 0 1 427.61 201.50M426.61 203.42L429.01 203.19M419.95 202.05L426.35 201.18M426.00 198.96A61.45 61.45 0 0 1 426.61 203.42M453.26 203.37L455.63 203.21M455.91 205.82L458.31 205.72M455.98 208.44L459.13 208.41M453.44 207.19L455.95 207.13M455.91 205.82A90.53 90.53 0 0 1 455.98 208.44M432.04 206.28L453.37 205.28M453.26 203.37A88.02 88.02 0 0 1 453.44 207.19M453.26 211.01L459.11 211.12M453.17 213.55L455.19 213.65M446.78 212.07L453.23 212.28M453.26 211.01A87.82 87.82 0 0 1 453.17 213.55M446.59 215.60L454.12 216.17M445.34 213.76L446.70 213.84M446.78 212.07A81.38 81.38 0 0 1 446.59 215.60M450.27 218.36L456.02 218.96M449.97 220.81L457.45 221.82M444.89 218.95L450.13 219.58M450.27 218.36A85.29 85.29 0 0 1 449.97 220.81M442.56 216.13L445.16 216.36M445.34 213.76A80.02 80.02 0 0 1 444.89 218.95M444.44 222.40L451.52 223.56M447.40 225.34L449.65 225.77M446.90 227.70L449.64 228.31M443.80 225.82L447.16 226.52M447.40 225.34A83.49 83.49 0 0 1 446.90 227.70M442.12 223.73L444.14 224.11M444.44 222.40A80.06 80.06 0 0 1 443.80 225.82M441.03 228.69L443.88 229.42M441.03 226.09L441.61 226.22M442.12 223.73A78.00 78.00 0 0 1 441.03 228.69M441.36 221.05L441.95 221.14M442.56 216.13A77.40 77.40 0 0 1 441.03 226.09M439.28 230.54L444.26 231.97M436.57 224.97L440.47 225.83M441.36 221.05A76.80 76.80 0 0 1 439.28 230.54M434.84 231.46L450.04 236.30M429.84 226.65L435.78 228.24M436.57 224.97A72.81 72.81 0 0 1 434.84 231.46M421.62 215.46L431.73 216.55M432.04 206.28A66.66 66.66 0 0 1 429.84 226.65M425.50 230.43L439.68 235.39M431.49 234.69L439.29 237.68M430.73 236.59L433.95 237.94M426.61 233.85L431.12 235.65M431.49 234.69A70.72 70.72 0 0 1 430.73 236.59M425.49 236.48L430.17 238.59M424.56 234.53L426.07 235.17M426.61 233.85A65.87 65.87 0 0 1 425.49 236.48M423.21 237.49L425.66 238.68M423.36 235.77L423.90 236.02M424.56 234.53A64.23 64.23 0 0 1 423.21 237.49M419.36 231.06L424.49 233.12M425.50 230.43A63.63 63.63 0 0 1 423.36 235.77M422.68 239.31L427.18 241.66M421.79 240.95L424.52 242.48M421.72 239.85L422.24 240.14M422.68 239.31A64.58 64.58 0 0 1 421.79 240.95M420.34 242.26L428.34 247.06M415.93 238.16L421.04 241.06M421.72 239.85A63.98 63.98 0 0 1 420.34 242.26M417.23 234.41L417.77 234.67M419.36 231.06A58.10 58.10 0 0 1 415.93 238.16M462.16 271.18L465.72 273.45M460.34 273.95L468.04 279.19M417.21 243.53L461.26 272.57M462.16 271.18A114.76 114.76 0 0 1 460.34 273.95M450.33 270.81L458.98 277.07M448.51 273.24L451.51 275.55M419.16 249.45L449.43 272.03M450.33 270.81A104.77 104.77 0 0 1 448.51 273.24M450.41 278.70L454.88 282.34M448.37 281.13L457.49 289.02M420.58 255.71L449.40 279.93M450.41 278.70A109.65 109.65 0 0 1 448.37 281.13M447.26 284.42L448.94 285.96M445.05 286.76L449.04 290.63M445.73 285.18L446.16 285.59M447.26 284.42A111.00 111.00 0 0 1 445.05 286.76M442.36 288.60L452.52 299.05M420.28 263.46L444.06 286.91M445.73 285.18A110.40 110.40 0 0 1 442.36 288.60M440.84 291.66L446.46 297.80M438.42 293.81L441.00 296.80M436.10 288.78L439.64 292.75M440.84 291.66A111.58 111.58 0 0 1 438.42 293.81M432.59 291.77L434.39 293.97M418.63 271.82L434.36 290.29M436.10 288.78A106.27 106.27 0 0 1 432.59 291.77M434.04 298.71L438.30 304.25M433.91 304.09L437.12 308.53M431.14 306.03L432.42 307.92M430.10 301.60L432.53 305.07M433.91 304.09A116.84 116.84 0 0 1 431.14 306.03M416.93 279.53L432.09 300.18M434.04 298.71A112.61 112.61 0 0 1 430.10 301.60M426.45 304.97L431.51 312.89M425.30 309.44L426.16 310.88M422.38 311.13L423.71 313.51M422.25 307.53L423.85 310.30M425.30 309.44A116.58 116.58 0 0 1 422.38 311.13M413.25 288.01L424.36 306.28M426.45 304.97A113.38 113.38 0 0 1 422.25 307.53M416.19 306.57L418.26 310.54M413.36 308.00L421.56 324.89M414.51 306.76L414.78 307.29M416.19 306.57A109.62 109.62 0 0 1 413.36 308.00M410.23 308.79L416.85 323.48M411.52 306.00L412.38 307.80M414.51 306.76A109.02 109.02 0 0 1 410.23 308.79M406.57 308.21L410.85 318.49M404.98 297.98L409.06 307.14M411.52 306.00A107.03 107.03 0 0 1 406.57 308.21M409.04 323.32L412.04 331.16M405.92 325.10L409.99 336.74M402.74 326.80L404.81 333.34M399.32 327.83L399.72 329.21M400.86 326.75L401.03 327.33M402.74 326.80A123.18 123.18 0 0 1 399.32 327.83M403.21 325.38L403.40 325.95M405.92 325.10A122.58 122.58 0 0 1 400.86 326.75M399.81 306.50L406.14 324.39M409.04 323.32A121.98 121.98 0 0 1 403.21 325.38M393.86 320.85L394.78 324.43M390.63 321.63L392.81 331.35M391.77 319.24L392.25 321.25M393.86 320.85A115.02 115.02 0 0 1 390.63 321.63M386.97 320.28L388.78 329.58M389.04 318.24L389.38 319.79M391.77 319.24A112.95 112.95 0 0 1 386.97 320.28M383.50 319.30L384.52 325.54M385.83 316.48L386.28 318.80M389.04 318.24A111.37 111.37 0 0 1 383.50 319.30M381.33 327.39L381.73 330.30M377.91 327.80L379.35 341.43M378.50 318.22L379.62 327.61M381.33 327.39A119.05 119.05 0 0 1 377.91 327.80M374.34 326.30L375.75 344.79M371.35 335.00L371.73 342.95M367.77 338.34L367.91 345.97M364.04 338.36L364.02 340.26M365.89 335.14L365.91 338.36M367.77 338.34A128.96 128.96 0 0 1 364.04 338.36M368.50 330.17L368.62 335.10M371.35 335.00A125.74 125.74 0 0 1 365.89 335.14M360.61 330.71L360.20 341.06M356.89 333.60L356.61 337.55M353.17 334.60L352.41 342.37M349.55 334.19L348.79 340.13M351.50 333.11L351.36 334.41M353.17 334.60A125.80 125.80 0 0 1 349.55 334.19M354.47 330.31L354.19 333.38M356.89 333.60A124.49 124.49 0 0 1 351.50 333.11M357.58 329.95L357.54 330.55M360.61 330.71A121.41 121.41 0 0 1 354.47 330.31M363.11 326.62L363.04 330.19M368.50 330.17A120.81 120.81 0 0 1 357.58 329.95M368.57 321.01L368.73 326.60M374.34 326.30A117.24 117.24 0 0 1 363.11 326.62M347.07 326.47L345.75 334.91M343.69 325.89L343.30 328.00M346.54 319.44L345.38 326.19M347.07 326.47A118.50 118.50 0 0 1 343.69 325.89M357.66 318.72L357.52 320.77M368.57 321.01A111.66 111.66 0 0 1 346.54 319.44M368.08 318.37L368.09 318.97M378.50 318.22A109.60 109.60 0 0 1 357.66 318.72M376.36 311.82L376.99 317.79M385.83 316.48A109.00 109.00 0 0 1 368.08 318.37M386.91 304.00L388.24 309.85M399.81 306.50A103.00 103.00 0 0 1 376.36 311.82M394.51 296.69L396.09 301.43M404.98 297.98A97.00 97.00 0 0 1 386.91 304.00M402.02 288.34L404.13 292.87M413.25 288.01A92.00 92.00 0 0 1 394.51 296.69M407.15 280.00L409.70 284.31M416.93 279.53A87.00 87.00 0 0 1 402.02 288.34M410.16 272.09L413.07 276.16M418.63 271.82A82.00 82.00 0 0 1 407.15 280.00M412.16 264.19L415.41 267.99M420.28 263.46A77.00 77.00 0 0 1 410.16 272.09M413.00 256.60L416.55 260.12M420.58 255.71A72.00 72.00 0 0 1 412.16 264.19M412.42 249.87L416.20 253.14M419.16 249.45A67.00 67.00 0 0 1 413.00 256.60M412.52 244.97L414.92 246.78M417.21 243.53A62.00 62.00 0 0 1 412.42 249.87M343.22 311.89L341.43 320.15M339.67 313.60L337.31 323.12M336.02 315.11L335.20 318.08M332.97 314.22L332.14 316.92M335.17 312.38L334.49 314.68M336.02 315.11A109.73 109.73 0 0 1 332.97 314.22M338.06 310.63L337.41 313.01M339.67 313.60A107.34 107.34 0 0 1 335.17 312.38M341.62 307.25L340.63 311.29M343.22 311.89A104.87 104.87 0 0 1 338.06 310.63M332.68 305.26L327.91 319.20M329.08 306.52L328.54 307.94M326.28 305.42L322.19 315.44M327.89 305.42L327.68 305.98M329.08 306.52A103.70 103.70 0 0 1 326.28 305.42M323.76 303.70L320.56 310.93M326.51 302.93L325.82 304.58M327.89 305.42A103.10 103.10 0 0 1 323.76 303.70M329.79 303.58L329.57 304.14M332.68 305.26A101.31 101.31 0 0 1 326.51 302.93M337.68 299.04L335.64 305.60M341.62 307.25A100.71 100.71 0 0 1 329.79 303.58M318.86 307.03L314.88 315.38M314.61 308.46L312.74 312.11M311.76 306.95L306.32 316.85M314.67 304.92L313.18 307.72M314.61 308.46A111.35 111.35 0 0 1 311.76 306.95M323.21 293.20L316.75 306.00M318.86 307.03A108.18 108.18 0 0 1 314.67 304.92M330.54 295.86L330.32 296.42M337.68 299.04A93.84 93.84 0 0 1 323.21 293.20M318.15 289.75L302.71 315.98M336.27 268.60L324.23 293.04M330.54 295.86A93.24 93.24 0 0 1 318.15 289.75M307.64 301.41L301.44 311.27M305.00 299.69L303.03 302.63M306.64 300.06L306.31 300.56M307.64 301.41A108.66 108.66 0 0 1 305.00 299.69M302.41 297.91L299.68 301.73M299.87 296.04L296.33 300.73M301.49 296.50L301.13 296.98M302.41 297.91A108.66 108.66 0 0 1 299.87 296.04M312.60 285.92L304.04 298.32M306.64 300.06A108.06 108.06 0 0 1 301.49 296.50M299.44 291.56L293.46 299.00M297.09 289.61L295.03 292.03M298.64 290.13L298.26 290.59M299.44 291.56A105.39 105.39 0 0 1 297.09 289.61M295.20 287.16L292.90 289.70M298.66 286.64L296.91 288.66M298.64 290.13A104.79 104.79 0 0 1 295.20 287.16M294.83 283.16L292.75 285.33M299.71 281.64L296.72 284.92M298.66 286.64A102.11 102.11 0 0 1 294.83 283.16M295.89 277.96L288.70 285.05M298.63 278.94L297.77 279.83M299.71 281.64A97.67 97.67 0 0 1 295.89 277.96M294.84 275.08L287.81 281.61M299.15 274.63L296.71 277.04M298.63 278.94A96.44 96.44 0 0 1 294.84 275.08M319.12 264.52L305.61 280.59M312.60 285.92A93.00 93.00 0 0 1 299.15 274.63M265.73 296.91L256.59 304.93M263.24 293.98L258.80 297.65M265.53 294.56L264.47 295.46M265.73 296.91A132.67 132.67 0 0 1 263.24 293.98M251.28 298.44L248.72 300.44M248.75 295.10L243.81 298.73M251.29 295.81L250.00 296.78M251.28 298.44A144.78 144.78 0 0 1 248.75 295.10M247.64 290.77L242.54 294.29M252.25 291.27L249.44 293.31M251.29 295.81A143.17 143.17 0 0 1 247.64 290.77M248.25 285.44L242.09 289.44M257.16 283.62L250.21 288.38M252.25 291.27A139.70 139.70 0 0 1 248.25 285.44M303.51 256.81L261.20 289.20M265.53 294.56A131.28 131.28 0 0 1 257.16 283.62M246.22 281.94L242.42 284.25M244.17 278.45L236.26 282.96M246.22 279.59L245.19 280.20M246.22 281.94A139.56 139.56 0 0 1 244.17 278.45M243.29 274.35L236.65 277.88M245.25 276.69L244.73 276.99M246.22 279.59A138.35 138.35 0 0 1 243.29 274.35M241.46 270.79L236.25 273.37M239.74 267.17L235.65 269.05M241.13 268.73L240.59 268.98M241.46 270.79A138.35 138.35 0 0 1 239.74 267.17M290.86 248.03L243.12 272.74M245.25 276.69A137.75 137.75 0 0 1 241.13 268.73M242.17 261.78L239.10 263.09M240.71 258.19L230.27 262.28M244.80 258.62L241.42 259.99M242.17 261.78A133.95 133.95 0 0 1 240.71 258.19M227.09 258.95L223.59 260.21M225.71 254.93L219.84 256.84M235.10 253.96L226.39 256.94M227.09 258.95A146.97 146.97 0 0 1 225.71 254.93M233.29 248.26L230.20 249.17M241.27 248.87L234.16 251.12M235.10 253.96A137.75 137.75 0 0 1 233.29 248.26M279.89 240.39L242.94 253.78M244.80 258.62A130.30 130.30 0 0 1 241.27 248.87M239.48 242.51L227.43 245.68M237.03 239.21L229.50 240.96M235.63 235.60L225.37 237.67M234.93 231.83L232.61 232.23M235.86 233.61L235.27 233.72M235.63 235.60A132.43 132.43 0 0 1 234.93 231.83M237.96 236.09L236.41 236.42M237.03 239.21A131.83 131.83 0 0 1 235.86 233.61M245.38 237.73L238.68 239.31M239.48 242.51A130.25 130.25 0 0 1 237.96 236.09M243.31 226.77L237.59 227.58M267.18 227.94L244.22 232.27M245.38 237.73A123.37 123.37 0 0 1 243.31 226.77M242.52 223.26L236.47 223.94M227.24 220.95L224.03 221.21M226.97 216.94L221.10 217.26M228.67 218.83L227.09 218.94M227.24 220.95A138.69 138.69 0 0 1 226.97 216.94M228.39 212.89L218.79 213.13M241.88 215.23L228.50 215.86M228.67 218.83A137.10 137.10 0 0 1 228.39 212.89M242.74 219.20L242.14 219.25M242.52 223.26A123.70 123.70 0 0 1 241.88 215.23M242.35 208.97L208.23 208.85M255.53 213.59L242.43 214.09M242.74 219.20A123.10 123.10 0 0 1 242.35 208.97M229.71 204.99L210.02 204.35M229.90 201.06L227.78 200.93M246.98 203.84L229.79 203.03M229.71 204.99A135.81 135.81 0 0 1 229.90 201.06M246.14 198.59L227.72 196.92M245.90 195.07L228.04 192.93M246.37 191.61L246.32 191.61M246.72 193.42L246.12 193.34M245.90 195.07A120.40 120.40 0 0 1 246.37 191.61M247.00 196.07L246.40 196.00M246.14 198.59A119.80 119.80 0 0 1 246.72 193.42M248.12 188.39L237.84 186.54M248.09 192.30L247.49 192.22M247.00 196.07A119.20 119.20 0 0 1 248.12 188.39M247.99 198.11L247.39 198.06M246.98 203.84A118.60 118.60 0 0 1 248.09 192.30M231.58 181.40L219.42 178.86M227.21 176.28L222.34 175.12M228.22 172.30L226.06 171.71M228.28 174.43L227.70 174.29M227.21 176.28A142.15 142.15 0 0 1 228.22 172.30M229.36 168.34L225.69 167.23M230.60 164.42L216.63 159.76M230.54 166.55L229.96 166.37M229.36 168.34A142.15 142.15 0 0 1 230.60 164.42M233.96 171.80L229.35 170.48M228.28 174.43A141.55 141.55 0 0 1 230.54 166.55M250.90 181.08L232.68 176.58M231.58 181.40A136.76 136.76 0 0 1 233.96 171.80M257.02 190.89L249.13 189.54M247.99 198.11A118.00 118.00 0 0 1 250.90 181.08M265.66 202.86L255.68 202.20M255.53 213.59A110.00 110.00 0 0 1 257.02 190.89M274.61 214.90L265.63 215.45M267.18 227.94A100.00 100.00 0 0 1 265.66 202.86M283.19 226.42L276.34 227.84M279.89 240.39A91.00 91.00 0 0 1 274.61 214.90M291.94 235.48L286.28 237.48M290.86 248.03A84.00 84.00 0 0 1 283.19 226.42M302.16 243.74L296.89 246.60M303.51 256.81A78.00 78.00 0 0 1 291.94 235.48M314.31 251.13L309.67 254.92M319.12 264.52A72.00 72.00 0 0 1 302.16 243.74M328.71 255.57L324.36 261.05M336.27 268.60A66.00 66.00 0 0 1 314.31 251.13M372.66 266.45L372.85 267.93M412.52 244.97A59.00 59.00 0 0 1 328.71 255.57M398.43 255.27L399.01 256.09M417.23 234.41A57.50 57.50 0 0 1 372.66 266.45M412.97 237.08L414.27 237.84M421.62 215.46A56.50 56.50 0 0 1 398.43 255.27M417.92 219.85L419.39 220.15M419.95 202.05A55.00 55.00 0 0 1 412.97 237.08M416.85 201.54L418.33 201.32M412.40 183.75A53.50 53.50 0 0 1 417.92 219.85M411.77 189.29L413.15 188.69M406.29 177.21A52.00 52.00 0 0 1 416.85 201.54M403.88 179.00L405.06 178.07M395.68 168.95A50.50 50.50 0 0 1 411.77 189.29M395.51 172.62L396.46 171.46M387.60 165.69A49.00 49.00 0 0 1 403.88 179.00M386.22 168.36L386.90 167.02M377.29 163.40A47.50 47.50 0 0 1 395.51 172.62M375.18 176.82L378.61 165.32M370.58 163.69A46.00 46.00 0 0 1 386.22 168.36M365.45 209.40L357.80 176.27M357.53 176.33A34.00 34.00 0 0 1 375.18 176.82" stroke="#1a1a1a" stroke-width="0.7" fill="none"/>
<g font-size="3.2" font-weight="bold" fill="#777"><text x="293.61" y="163.08" transform="rotate(392.6 293.61 163.48)" text-anchor="middle">97</text><text x="290.02" y="147.43" transform="rotate(399.2 290.02 147.83)" text-anchor="middle">0.98</text><text x="293.06" y="152.48" transform="rotate(398.0 293.06 152.88)" text-anchor="middle">97</text><text x="295.82" y="157.42" transform="rotate(396.5 295.82 157.82)" text-anchor="middle">97</text><text x="272.97" y="113.71" transform="rotate(405.9 272.97 114.11)" text-anchor="middle">0.98</text><text x="278.29" y="123.01" transform="rotate(404.6 278.29 123.41)" text-anchor="middle">0.98</text><text x="282.45" y="112.92" transform="rotate(409.2 282.45 113.32)" text-anchor="middle">100</text><text x="294.80" y="116.94" transform="rotate(412.5 294.80 117.34)" text-anchor="middle">100</text><text x="298.49" y="117.73" transform="rotate(413.7 298.49 118.13)" text-anchor="middle">0.98</text><text x="307.42" y="111.92" transform="rotate(419.1 307.42 112.32)" text-anchor="middle">97</text><text x="305.64" y="113.71" transform="rotate(417.9 305.64 114.11)" text-anchor="middle">1</text><text x="311.50" y="105.60" transform="rotate(422.4 311.50 106.00)" text-anchor="middle">0.98</text><text x="309.93" y="112.19" transform="rotate(420.2 309.93 112.59)" text-anchor="middle">100</text><text x="307.86" y="120.48" transform="rotate(417.0 307.86 120.88)" text-anchor="middle">100</text><text x="304.39" y="127.79" transform="rotate(413.1 304.39 128.19)" text-anchor="middle">97</text><text x="303.84" y="138.53" transform="rotate(408.8 303.84 138.93)" text-anchor="middle">99</text><text x="305.92" y="148.89" transform="rotate(405.3 305.92 149.29)" text-anchor="middle">100</text><text x="303.77" y="155.57" transform="rotate(400.9 303.77 155.97)" text-anchor="middle">100</text><text x="302.47" y="161.98" transform="rotate(396.7 302.47 162.38)" text-anchor="middle">0.98</text><text x="302.35" y="167.36" transform="rotate(393.4 302.35 167.76)" text-anchor="middle">1</text><text x="340.72" y="144.31" transform="rotate(429.1 340.72 144.71)" text-anchor="middle">1</text><text x="339.55" y="145.42" transform="rotate(427.8 339.55 145.82)" text-anchor="middle">100</text><text x="338.19" y="146.64" transform="rotate(426.4 338.19 147.04)" text-anchor="middle">0.98</text><text x="344.31" y="142.38" transform="rotate(432.4 344.31 142.78)" text-anchor="middle">97</text><text x="343.81" y="151.44" transform="rotate(429.4 343.81 151.84)" text-anchor="middle">97</text><text x="351.78" y="147.97" transform="rotate(437.4 351.78 148.37)" text-anchor="middle">1</text><text x="353.69" y="150.58" transform="rotate(438.6 353.69 150.98)" text-anchor="middle">1</text><text x="355.22" y="132.85" transform="rotate(442.4 355.22 133.25)" text-anchor="middle">0.98</text><text x="357.39" y="137.24" transform="rotate(443.6 357.39 137.64)" text-anchor="middle">1</text><text x="359.44" y="139.67" transform="rotate(445.0 359.44 140.07)" text-anchor="middle">100</text><text x="357.07" y="150.61" transform="rotate(441.8 357.07 151.01)" text-anchor="middle">0.98</text><text x="353.67" y="151.81" transform="rotate(438.4 353.67 152.21)" text-anchor="middle">100</text><text x="364.30" y="143.91" transform="rotate(449.0 364.30 144.31)" text-anchor="middle">0.98</text><text x="359.09" y="151.63" transform="rotate(443.7 359.09 152.03)" text-anchor="middle">100</text><text x="354.13" y="161.74" transform="rotate(436.5 354.13 162.14)" text-anchor="middle">100</text><text x="373.93" y="142.64" transform="rotate(277.3 373.93 143.04)" text-anchor="middle">100</text><text x="372.42" y="143.06" transform="rotate(276.0 372.42 143.46)" text-anchor="middle">100</text><text x="370.70" y="143.51" transform="rotate(274.6 370.70 143.91)" text-anchor="middle">100</text><text x="368.87" y="144.35" transform="rotate(273.0 368.87 144.75)" text-anchor="middle">0.98</text><text x="372.60" y="145.26" transform="rotate(276.4 372.60 145.66)" text-anchor="middle">100</text><text x="379.44" y="144.59" transform="rotate(282.3 379.44 144.99)" text-anchor="middle">97</text><text x="384.46" y="147.70" transform="rotate(287.2 384.46 148.10)" text-anchor="middle">99</text><text x="385.60" y="148.70" transform="rotate(288.5 385.60 149.10)" text-anchor="middle">97</text><text x="383.45" y="148.65" transform="rotate(286.6 383.45 149.05)" text-anchor="middle">0.98</text><text x="381.00" y="148.59" transform="rotate(284.4 381.00 148.99)" text-anchor="middle">100</text><text x="391.99" y="149.03" transform="rotate(293.9 391.99 149.43)" text-anchor="middle">0.98</text><text x="390.32" y="149.31" transform="rotate(292.6 390.32 149.71)" text-anchor="middle">100</text><text x="392.01" y="150.70" transform="rotate(294.5 392.01 151.10)" text-anchor="middle">1</text><text x="397.93" y="153.87" transform="rotate(300.5 397.93 154.27)" text-anchor="middle">99</text><text x="396.04" y="154.40" transform="rotate(299.3 396.04 154.80)" text-anchor="middle">97</text><text x="392.90" y="154.82" transform="rotate(296.9 392.90 155.22)" text-anchor="middle">100</text><text x="404.47" y="157.48" transform="rotate(307.1 404.47 157.88)" text-anchor="middle">1</text><text x="402.43" y="157.91" transform="rotate(305.9 402.43 158.31)" text-anchor="middle">100</text><text x="409.44" y="157.41" transform="rotate(310.5 409.44 157.81)" text-anchor="middle">97</text><text x="404.06" y="159.89" transform="rotate(308.2 404.06 160.29)" text-anchor="middle">1</text><text x="404.79" y="163.04" transform="rotate(310.6 404.79 163.44)" text-anchor="middle">99</text><text x="401.20" y="161.17" transform="rotate(306.8 401.20 161.57)" text-anchor="middle">97</text><text x="411.76" y="163.38" transform="rotate(315.4 411.76 163.78)" text-anchor="middle">0.98</text><text x="412.31" y="164.81" transform="rotate(316.7 412.31 165.21)" text-anchor="middle">100</text><text x="416.85" y="166.49" transform="rotate(320.4 416.85 166.89)" text-anchor="middle">1</text><text x="413.27" y="166.76" transform="rotate(318.5 413.27 167.16)" text-anchor="middle">99</text><text x="418.27" y="170.24" transform="rotate(323.7 418.27 170.64)" text-anchor="middle">99</text><text x="418.37" y="171.91" transform="rotate(325.0 418.37 172.31)" text-anchor="middle">100</text><text x="415.09" y="169.88" transform="rotate(321.8 415.09 170.28)" text-anchor="middle">0.98</text><text x="423.77" y="175.82" transform="rotate(330.4 423.77 176.22)" text-anchor="middle">99</text><text x="423.49" y="177.62" transform="rotate(331.6 423.49 178.02)" text-anchor="middle">100</text><text x="430.51" y="179.13" transform="rotate(335.3 430.51 179.53)" text-anchor="middle">100</text><text x="428.65" y="181.63" transform="rotate(336.6 428.65 182.03)" text-anchor="middle">0.98</text><text x="428.64" y="183.51" transform="rotate(338.0 428.64 183.91)" text-anchor="middle">100</text><text x="424.62" y="181.18" transform="rotate(334.8 424.62 181.58)" text-anchor="middle">97</text><text x="422.13" y="178.03" transform="rotate(331.3 422.13 178.43)" text-anchor="middle">100</text><text x="429.83" y="188.05" transform="rotate(342.0 429.83 188.45)" text-anchor="middle">99</text><text x="429.70" y="189.63" transform="rotate(343.2 429.70 190.03)" text-anchor="middle">97</text><text x="431.28" y="193.74" transform="rotate(347.0 431.28 194.14)" text-anchor="middle">100</text><text x="429.71" y="191.88" transform="rotate(345.1 429.71 192.28)" text-anchor="middle">100</text><text x="431.63" y="197.65" transform="rotate(350.3 431.63 198.05)" text-anchor="middle">1</text><text x="429.84" y="194.93" transform="rotate(347.7 429.84 195.33)" text-anchor="middle">100</text><text x="428.78" y="198.08" transform="rotate(350.2 428.78 198.48)" text-anchor="middle">100</text><text x="427.93" y="200.57" transform="rotate(352.3 427.93 200.97)" text-anchor="middle">100</text><text x="457.55" y="206.69" transform="rotate(358.6 457.55 207.09)" text-anchor="middle">100</text><text x="454.97" y="204.81" transform="rotate(357.3 454.97 205.21)" text-anchor="middle">97</text><text x="454.82" y="211.93" transform="rotate(1.9 454.82 212.33)" text-anchor="middle">97</text><text x="448.30" y="213.52" transform="rotate(3.1 448.30 213.92)" text-anchor="middle">1</text><text x="451.72" y="219.37" transform="rotate(6.9 451.72 219.77)" text-anchor="middle">97</text><text x="446.75" y="216.10" transform="rotate(5.0 446.75 216.50)" text-anchor="middle">97</text><text x="448.73" y="226.45" transform="rotate(11.8 448.73 226.85)" text-anchor="middle">100</text><text x="445.71" y="224.01" transform="rotate(10.6 445.71 224.41)" text-anchor="middle">0.98</text><text x="443.18" y="226.17" transform="rotate(12.5 443.18 226.57)" text-anchor="middle">1</text><text x="443.54" y="220.98" transform="rotate(8.7 443.54 221.38)" text-anchor="middle">100</text><text x="442.03" y="225.77" transform="rotate(12.4 442.03 226.17)" text-anchor="middle">1</text><text x="437.32" y="228.25" transform="rotate(15.0 437.32 228.65)" text-anchor="middle">99</text><text x="433.32" y="216.32" transform="rotate(6.2 433.32 216.72)" text-anchor="middle">99</text><text x="432.60" y="235.84" transform="rotate(21.8 432.60 236.24)" text-anchor="middle">100</text><text x="427.54" y="235.39" transform="rotate(23.0 427.54 235.79)" text-anchor="middle">99</text><text x="425.36" y="236.28" transform="rotate(24.5 425.36 236.68)" text-anchor="middle">99</text><text x="425.98" y="233.32" transform="rotate(21.9 425.98 233.72)" text-anchor="middle">100</text><text x="423.65" y="240.50" transform="rotate(28.4 423.65 240.90)" text-anchor="middle">97</text><text x="422.43" y="241.46" transform="rotate(29.7 422.43 241.86)" text-anchor="middle">100</text><text x="419.21" y="234.96" transform="rotate(25.8 419.21 235.36)" text-anchor="middle">100</text><text x="462.60" y="273.05" transform="rotate(33.4 462.60 273.45)" text-anchor="middle">100</text><text x="450.71" y="272.59" transform="rotate(36.7 450.71 272.99)" text-anchor="middle">1</text><text x="450.63" y="280.56" transform="rotate(40.0 450.63 280.96)" text-anchor="middle">100</text><text x="447.33" y="286.29" transform="rotate(43.4 447.33 286.69)" text-anchor="middle">100</text><text x="445.20" y="287.63" transform="rotate(44.6 445.20 288.03)" text-anchor="middle">100</text><text x="440.70" y="293.54" transform="rotate(48.3 440.70 293.94)" text-anchor="middle">97</text><text x="435.40" y="291.11" transform="rotate(49.6 435.40 291.51)" text-anchor="middle">97</text><text x="433.45" y="305.98" transform="rotate(55.0 433.45 306.38)" text-anchor="middle">100</text><text x="433.03" y="301.07" transform="rotate(53.7 433.03 301.47)" text-anchor="middle">1</text><text x="424.65" y="311.28" transform="rotate(59.9 424.65 311.68)" text-anchor="middle">0.98</text><text x="425.20" y="307.24" transform="rotate(58.7 425.20 307.64)" text-anchor="middle">100</text><text x="415.50" y="308.32" transform="rotate(63.3 415.50 308.72)" text-anchor="middle">97</text><text x="413.07" y="308.84" transform="rotate(64.5 413.07 309.24)" text-anchor="middle">0.98</text><text x="409.72" y="308.20" transform="rotate(66.0 409.72 308.60)" text-anchor="middle">100</text><text x="401.50" y="328.46" transform="rotate(73.2 401.50 328.86)" text-anchor="middle">1</text><text x="403.89" y="327.08" transform="rotate(72.0 403.89 327.48)" text-anchor="middle">100</text><text x="406.67" y="325.50" transform="rotate(70.5 406.67 325.90)" text-anchor="middle">97</text><text x="392.62" y="322.41" transform="rotate(76.5 392.62 322.81)" text-anchor="middle">1</text><text x="389.71" y="320.95" transform="rotate(77.8 389.71 321.35)" text-anchor="middle">97</text><text x="386.57" y="319.98" transform="rotate(79.2 386.57 320.38)" text-anchor="middle">100</text><text x="379.82" y="328.80" transform="rotate(83.2 379.82 329.20)" text-anchor="middle">97</text><text x="365.91" y="339.56" transform="rotate(89.8 365.91 339.96)" text-anchor="middle">97</text><text x="368.67" y="336.30" transform="rotate(88.6 368.67 336.70)" text-anchor="middle">100</text><text x="351.18" y="335.60" transform="rotate(276.4 351.18 336.00)" text-anchor="middle">100</text><text x="354.05" y="334.58" transform="rotate(275.2 354.05 334.98)" text-anchor="middle">99</text><text x="357.43" y="331.75" transform="rotate(273.7 357.43 332.15)" text-anchor="middle">0.98</text><text x="363.00" y="331.39" transform="rotate(271.1 363.00 331.79)" text-anchor="middle">99</text><text x="368.77" y="327.80" transform="rotate(88.4 368.77 328.20)" text-anchor="middle">100</text><text x="345.11" y="327.37" transform="rotate(279.7 345.11 327.77)" text-anchor="middle">100</text><text x="357.40" y="321.97" transform="rotate(274.1 357.40 322.37)" text-anchor="middle">100</text><text x="368.13" y="320.17" transform="rotate(88.6 368.13 320.57)" text-anchor="middle">97</text><text x="377.16" y="318.98" transform="rotate(83.9 377.16 319.38)" text-anchor="middle">0.98</text><text x="388.59" y="311.01" transform="rotate(77.2 388.59 311.41)" text-anchor="middle">1</text><text x="396.60" y="302.55" transform="rotate(71.6 396.60 302.95)" text-anchor="middle">0.98</text><text x="404.80" y="293.93" transform="rotate(65.1 404.80 294.33)" text-anchor="middle">100</text><text x="410.51" y="285.28" transform="rotate(59.4 410.51 285.68)" text-anchor="middle">100</text><text x="414.00" y="277.06" transform="rotate(54.5 414.00 277.46)" text-anchor="middle">100</text><text x="416.45" y="268.81" transform="rotate(49.5 416.45 269.21)" text-anchor="middle">100</text><text x="417.68" y="260.85" transform="rotate(44.8 417.68 261.25)" text-anchor="middle">97</text><text x="417.42" y="253.78" transform="rotate(40.8 417.42 254.18)" text-anchor="middle">99</text><text x="416.19" y="247.34" transform="rotate(37.1 416.19 247.74)" text-anchor="middle">100</text><text x="334.04" y="315.81" transform="rotate(286.4 334.04 316.21)" text-anchor="middle">0.98</text><text x="337.00" y="314.16" transform="rotate(285.1 337.00 314.56)" text-anchor="middle">99</text><text x="340.25" y="312.45" transform="rotate(283.7 340.25 312.85)" text-anchor="middle">99</text><text x="327.09" y="307.07" transform="rotate(291.4 327.09 307.47)" text-anchor="middle">97</text><text x="325.20" y="305.66" transform="rotate(292.6 325.20 306.06)" text-anchor="middle">100</text><text x="329.01" y="305.24" transform="rotate(290.7 329.01 305.64)" text-anchor="middle">100</text><text x="335.17" y="306.73" transform="rotate(287.2 335.17 307.13)" text-anchor="middle">100</text><text x="312.43" y="308.73" transform="rotate(298.0 312.43 309.13)" text-anchor="middle">100</text><text x="316.03" y="307.03" transform="rotate(296.8 316.03 307.43)" text-anchor="middle">0.98</text><text x="329.72" y="297.50" transform="rotate(292.0 329.72 297.90)" text-anchor="middle">1</text><text x="323.52" y="294.07" transform="rotate(296.2 323.52 294.47)" text-anchor="middle">100</text><text x="305.44" y="301.50" transform="rotate(303.0 305.44 301.90)" text-anchor="middle">100</text><text x="300.19" y="297.87" transform="rotate(306.3 300.19 298.27)" text-anchor="middle">0.98</text><text x="303.13" y="299.23" transform="rotate(304.6 303.13 299.63)" text-anchor="middle">99</text><text x="297.24" y="291.43" transform="rotate(309.6 297.24 291.83)" text-anchor="middle">99</text><text x="295.86" y="289.47" transform="rotate(310.9 295.86 289.87)" text-anchor="middle">0.98</text><text x="295.64" y="285.71" transform="rotate(312.3 295.64 286.11)" text-anchor="middle">97</text><text x="296.67" y="280.58" transform="rotate(313.9 296.67 280.98)" text-anchor="middle">100</text><text x="295.57" y="277.76" transform="rotate(315.5 295.57 278.16)" text-anchor="middle">0.98</text><text x="304.58" y="281.42" transform="rotate(310.0 304.58 281.82)" text-anchor="middle">97</text><text x="263.26" y="296.09" transform="rotate(319.6 263.26 296.49)" text-anchor="middle">0.98</text><text x="248.73" y="297.34" transform="rotate(322.9 248.73 297.74)" text-anchor="middle">100</text><text x="248.14" y="293.85" transform="rotate(324.1 248.14 294.25)" text-anchor="middle">97</text><text x="248.89" y="288.89" transform="rotate(325.6 248.89 289.29)" text-anchor="middle">100</text><text x="259.93" y="289.77" transform="rotate(322.6 259.93 290.17)" text-anchor="middle">1</text><text x="243.81" y="280.61" transform="rotate(329.5 243.81 281.01)" text-anchor="middle">100</text><text x="243.33" y="277.37" transform="rotate(330.8 243.33 277.77)" text-anchor="middle">99</text><text x="239.14" y="269.27" transform="rotate(334.5 239.14 269.67)" text-anchor="middle">100</text><text x="241.70" y="273.08" transform="rotate(332.6 241.70 273.48)" text-anchor="middle">0.98</text><text x="239.94" y="260.20" transform="rotate(337.8 239.94 260.60)" text-anchor="middle">100</text><text x="224.87" y="257.06" transform="rotate(341.1 224.87 257.46)" text-anchor="middle">1</text><text x="232.64" y="251.21" transform="rotate(342.4 232.64 251.61)" text-anchor="middle">100</text><text x="241.44" y="253.92" transform="rotate(340.1 241.44 254.32)" text-anchor="middle">100</text><text x="233.69" y="233.61" transform="rotate(349.4 233.69 234.01)" text-anchor="middle">1</text><text x="234.85" y="236.34" transform="rotate(348.2 234.85 236.74)" text-anchor="middle">1</text><text x="237.12" y="239.28" transform="rotate(346.7 237.12 239.68)" text-anchor="middle">0.98</text><text x="242.64" y="232.17" transform="rotate(349.3 242.64 232.57)" text-anchor="middle">100</text><text x="225.49" y="218.65" transform="rotate(356.1 225.49 219.05)" text-anchor="middle">1</text><text x="226.90" y="215.54" transform="rotate(357.3 226.90 215.94)" text-anchor="middle">97</text><text x="240.54" y="218.98" transform="rotate(355.4 240.54 219.38)" text-anchor="middle">97</text><text x="240.84" y="213.75" transform="rotate(357.8 240.84 214.15)" text-anchor="middle">0.98</text><text x="228.19" y="202.55" transform="rotate(362.7 228.19 202.95)" text-anchor="middle">100</text><text x="244.54" y="192.73" transform="rotate(367.7 244.54 193.13)" text-anchor="middle">97</text><text x="244.81" y="195.42" transform="rotate(366.4 244.81 195.82)" text-anchor="middle">100</text><text x="245.91" y="191.59" transform="rotate(368.3 245.91 191.99)" text-anchor="middle">100</text><text x="245.80" y="197.50" transform="rotate(365.5 245.80 197.90)" text-anchor="middle">100</text><text x="226.15" y="173.49" transform="rotate(374.3 226.15 173.89)" text-anchor="middle">100</text><text x="228.44" y="165.49" transform="rotate(377.6 228.44 165.89)" text-anchor="middle">0.98</text><text x="227.81" y="169.64" transform="rotate(376.0 227.81 170.04)" text-anchor="middle">99</text><text x="231.13" y="175.79" transform="rotate(373.9 231.13 176.19)" text-anchor="middle">100</text><text x="247.55" y="188.87" transform="rotate(369.7 247.55 189.27)" text-anchor="middle">1</text><text x="254.09" y="201.70" transform="rotate(363.8 254.09 202.10)" text-anchor="middle">1</text><text x="264.03" y="215.14" transform="rotate(356.5 264.03 215.54)" text-anchor="middle">97</text><text x="274.77" y="227.76" transform="rotate(348.3 274.77 228.16)" text-anchor="middle">99</text><text x="284.77" y="237.62" transform="rotate(340.5 284.77 238.02)" text-anchor="middle">97</text><text x="295.48" y="246.96" transform="rotate(331.5 295.48 247.36)" text-anchor="middle">0.98</text><text x="308.43" y="255.53" transform="rotate(320.8 308.43 255.93)" text-anchor="middle">97</text><text x="323.36" y="261.90" transform="rotate(308.5 323.36 262.30)" text-anchor="middle">99</text><text x="373.05" y="269.12" transform="rotate(82.8 373.05 269.52)" text-anchor="middle">0.98</text><text x="399.95" y="256.98" transform="rotate(54.3 399.95 257.38)" text-anchor="middle">100</text><text x="415.65" y="238.24" transform="rotate(30.2 415.65 238.64)" text-anchor="middle">1</text><text x="420.96" y="220.06" transform="rotate(11.3 420.96 220.46)" text-anchor="middle">100</text><text x="419.92" y="200.67" transform="rotate(351.3 419.92 201.07)" text-anchor="middle">100</text><text x="414.62" y="187.66" transform="rotate(336.5 414.62 188.06)" text-anchor="middle">100</text><text x="406.31" y="176.68" transform="rotate(321.7 406.31 177.08)" text-anchor="middle">97</text><text x="397.47" y="169.82" transform="rotate(309.3 397.47 170.22)" text-anchor="middle">0.98</text><text x="387.63" y="165.19" transform="rotate(296.9 387.63 165.59)" text-anchor="middle">1</text><text x="379.07" y="163.39" transform="rotate(286.6 379.07 163.79)" text-anchor="middle">0.98</text><text x="357.44" y="174.31" transform="rotate(437.0 357.44 174.71)" text-anchor="middle">0.98</text></g>
<style>.lb text{font-size:5.70px;stroke-width:0.12}.tG{fill:#46ac4a;stroke:#46ac4a}.bG{fill:#d6efd6}.tO{fill:#f0982f;stroke:#f0982f}.bO{fill:#fde4cc}.tY{fill:#e8ec3a;stroke:#e8ec3a}.bY{fill:#fdfcd0}.tR{fill:#e4524a;stroke:#e4524a}.bR{fill:#fbdad6}.tT{fill:#f0c498;stroke:#f0c498}.bT{fill:#fdeee2}.tB{fill:#3c3cf0;stroke:#3c3cf0}.tC{fill:#4cd0c8;stroke:#4cd0c8}.bC{fill:#d4f4f2}.tP{fill:#a050e4;stroke:#a050e4}.bP{fill:#ebdcf9}.tK{fill:#505050;stroke:#505050}.bK{fill:#eaeaea}</style>
<g class="lb"><g transform="rotate(390.10 365.45 209.40)"><rect class="bG" x="172.72" y="207.30" width="30.23" height="4.20"/><text class="tG" x="202.95" y="211.40" text-anchor="end">ERS549491</text></g><g transform="rotate(391.76 365.45 209.40)"><rect class="bK" x="172.72" y="207.30" width="30.23" height="4.20"/><text class="tK" x="202.95" y="211.40" text-anchor="end">ERS549470</text></g><g transform="rotate(393.42 365.45 209.40)"><text class="tB" x="202.95" y="211.40" text-anchor="end">M2-27681140</text></g><g transform="rotate(395.08 365.45 209.40)"><text class="tB" x="202.95" y="211.40" text-anchor="end">M5-27693057</text></g><g transform="rotate(396.74 365.45 209.40)"><text class="tB" x="202.95" y="211.40" text-anchor="end">M11-27690204</text></g><g transform="rotate(398.39 365.45 209.40)"><text class="tB" x="202.95" y="211.40" text-anchor="end">M2-27698567</text></g><g transform="rotate(400.05 365.45 209.40)"><text class="tB" x="202.95" y="211.40" text-anchor="end">M15-27683674</text></g><g transform="rotate(401.71 365.45 209.40)"><rect class="bG" x="169.55" y="207.30" width="33.40" height="4.20"/><text class="tG" x="202.95" y="211.40" text-anchor="end">ERS1791224</text></g><g transform="rotate(403.37 365.45 209.40)"><rect class="bG" x="169.55" y="207.30" width="33.40" height="4.20"/><text class="tG" x="202.95" y="211.40" text-anchor="end">ERS1791281</text></g><g transform="rotate(405.03 365.45 209.40)"><rect class="bG" x="169.55" y="207.30" width="33.40" height="4.20"/><text class="tG" x="202.95" y="211.40" text-anchor="end">ERS1791240</text></g><g transform="rotate(406.69 365.45 209.40)"><rect class="bG" x="169.55" y="207.30" width="33.40" height="4.20"/><text class="tG" x="202.95" y="211.40" text-anchor="end">ERS1791290</text></g><g transform="rotate(408.35 365.45 209.40)"><rect class="bG" x="169.55" y="207.30" width="33.40" height="4.20"/><text class="tG" x="202.95" y="211.40" text-anchor="end">SRR8183298</text></g><g transform="rotate(410.01 365.45 209.40)"><rect class="bC" x="169.55" y="207.30" width="33.40" height="4.20"/><text class="tC" x="202.95" y="211.40" text-anchor="end">ERS1791268</text></g><g transform="rotate(411.66 365.45 209.40)"><rect class="bR" x="169.55" y="207.30" width="33.40" height="4.20"/><text class="tR" x="202.95" y="211.40" text-anchor="end">ERS1791239</text></g><g transform="rotate(413.32 365.45 209.40)"><rect class="bO" x="169.55" y="207.30" width="33.40" height="4.20"/><text class="tO" x="202.95" y="211.40" text-anchor="end">ERS1791251</text></g><g transform="rotate(414.98 365.45 209.40)"><text class="tB" x="202.95" y="211.40" text-anchor="end">M5-27684405</text></g><g transform="rotate(416.64 365.45 209.40)"><rect class="bY" x="169.55" y="207.30" width="33.40" height="4.20"/><text class="tY" x="202.95" y="211.40" text-anchor="end">ERS1791245</text></g><g transform="rotate(418.30 365.45 209.40)"><rect class="bG" x="169.55" y="207.30" width="33.40" height="4.20"/><text class="tG" x="202.95" y="211.40" text-anchor="end">ERS1791270</text></g><g transform="rotate(419.96 365.45 209.40)"><rect class="bG" x="169.55" y="207.30" width="33.40" height="4.20"/><text class="tG" x="202.95" y="211.40" text-anchor="end">SRR8183299</text></g><g transform="rotate(421.62 365.45 209.40)"><rect class="bG" x="169.55" y="207.30" width="33.40" height="4.20"/><text class="tG" x="202.95" y="211.40" text-anchor="end">ERS1791222</text></g><g transform="rotate(423.28 365.45 209.40)"><rect class="bG" x="175.88" y="207.30" width="27.06" height="4.20"/><text class="tG" x="202.95" y="211.40" text-anchor="end">DQ279927</text></g><g transform="rotate(424.93 365.45 209.40)"><rect class="bT" x="169.55" y="207.30" width="33.40" height="4.20"/><text class="tT" x="202.95" y="211.40" text-anchor="end">ERS1791208</text></g><g transform="rotate(426.59 365.45 209.40)"><rect class="bT" x="172.72" y="207.30" width="30.23" height="4.20"/><text class="tT" x="202.95" y="211.40" text-anchor="end">ERS074931</text></g><g transform="rotate(428.25 365.45 209.40)"><rect class="bT" x="172.72" y="207.30" width="30.23" height="4.20"/><text class="tT" x="202.95" y="211.40" text-anchor="end">ERS074919</text></g><g transform="rotate(429.91 365.45 209.40)"><text class="tB" x="202.95" y="211.40" text-anchor="end">M17-27681703</text></g><g transform="rotate(431.57 365.45 209.40)"><rect class="bG" x="172.72" y="207.30" width="30.23" height="4.20"/><text class="tG" x="202.95" y="211.40" text-anchor="end">ERS074926</text></g><g transform="rotate(433.23 365.45 209.40)"><rect class="bG" x="169.55" y="207.30" width="33.40" height="4.20"/><text class="tG" x="202.95" y="211.40" text-anchor="end">SRR8183202</text></g><g transform="rotate(434.89 365.45 209.40)"><rect class="bG" x="172.72" y="207.30" width="30.23" height="4.20"/><text class="tG" x="202.95" y="211.40" text-anchor="end">ERS074943</text></g><g transform="rotate(436.55 365.45 209.40)"><rect class="bT" x="169.55" y="207.30" width="33.40" height="4.20"/><text class="tT" x="202.95" y="211.40" text-anchor="end">ERS1791242</text></g><g transform="rotate(438.21 365.45 209.40)"><rect class="bT" x="169.55" y="207.30" width="33.40" height="4.20"/><text class="tT" x="202.95" y="211.40" text-anchor="end">ERS1791274</text></g><g transform="rotate(439.86 365.45 209.40)"><rect class="bG" x="169.55" y="207.30" width="33.40" height="4.20"/><text class="tG" x="202.95" y="211.40" text-anchor="end">ERS1791280</text></g><g transform="rotate(441.52 365.45 209.40)"><rect class="bG" x="169.55" y="207.30" width="33.40" height="4.20"/><text class="tG" x="202.95" y="211.40" text-anchor="end">SRR8183236</text></g><g transform="rotate(443.18 365.45 209.40)"><text class="tB" x="202.95" y="211.40" text-anchor="end">M3-27696605</text></g><g transform="rotate(444.84 365.45 209.40)"><rect class="bO" x="169.55" y="207.30" width="33.40" height="4.20"/><text class="tO" x="202.95" y="211.40" text-anchor="end">SRR8183254</text></g><g transform="rotate(446.50 365.45 209.40)"><text class="tB" x="202.95" y="211.40" text-anchor="end">ERS1791241</text></g><g transform="rotate(448.16 365.45 209.40)"><text class="tB" x="202.95" y="211.40" text-anchor="end">ERS074942</text></g><g transform="rotate(449.82 365.45 209.40)"><rect class="bG" x="169.55" y="207.30" width="33.40" height="4.20"/><text class="tG" x="202.95" y="211.40" text-anchor="end">ERS1791271</text></g><g transform="rotate(271.48 365.45 209.40)"><rect class="bG" x="527.95" y="207.30" width="33.40" height="4.20"/><text class="tG" x="527.95" y="211.40">SRR8183268</text></g><g transform="rotate(273.13 365.45 209.40)"><rect class="bG" x="527.95" y="207.30" width="33.40" height="4.20"/><text class="tG" x="527.95" y="211.40">ERS1791213</text></g><g transform="rotate(274.79 365.45 209.40)"><rect class="bG" x="527.95" y="207.30" width="33.40" height="4.20"/><text class="tG" x="527.95" y="211.40">ERS1791206</text></g><g transform="rotate(276.45 365.45 209.40)"><rect class="bT" x="527.95" y="207.30" width="30.23" height="4.20"/><text class="tT" x="527.95" y="211.40">ERS074915</text></g><g transform="rotate(278.11 365.45 209.40)"><rect class="bR" x="527.95" y="207.30" width="33.40" height="4.20"/><text class="tR" x="527.95" y="211.40">ERS1791212</text></g><g transform="rotate(279.77 365.45 209.40)"><rect class="bR" x="527.95" y="207.30" width="33.40" height="4.20"/><text class="tR" x="527.95" y="211.40">ERS1791240</text></g><g transform="rotate(281.43 365.45 209.40)"><rect class="bR" x="527.95" y="207.30" width="33.40" height="4.20"/><text class="tR" x="527.95" y="211.40">ERS1791269</text></g><g transform="rotate(283.09 365.45 209.40)"><rect class="bC" x="527.95" y="207.30" width="30.23" height="4.20"/><text class="tC" x="527.95" y="211.40">ERS074931</text></g><g transform="rotate(284.75 365.45 209.40)"><rect class="bC" x="527.95" y="207.30" width="30.23" height="4.20"/><text class="tC" x="527.95" y="211.40">ERS074911</text></g><g transform="rotate(286.40 365.45 209.40)"><rect class="bR" x="527.95" y="207.30" width="30.23" height="4.20"/><text class="tR" x="527.95" y="211.40">ERS074916</text></g><g transform="rotate(288.06 365.45 209.40)"><rect class="bG" x="527.95" y="207.30" width="33.40" height="4.20"/><text class="tG" x="527.95" y="211.40">ERS1791252</text></g><g transform="rotate(289.72 365.45 209.40)"><rect class="bR" x="527.95" y="207.30" width="33.40" height="4.20"/><text class="tR" x="527.95" y="211.40">ERS1791287</text></g><g transform="rotate(291.38 365.45 209.40)"><rect class="bY" x="527.95" y="207.30" width="30.23" height="4.20"/><text class="tY" x="527.95" y="211.40">ERS074924</text></g><g transform="rotate(293.04 365.45 209.40)"><rect class="bR" x="527.95" y="207.30" width="33.40" height="4.20"/><text class="tR" x="527.95" y="211.40">ERS1791246</text></g><g transform="rotate(294.70 365.45 209.40)"><rect class="bT" x="527.95" y="207.30" width="30.23" height="4.20"/><text class="tT" x="527.95" y="211.40">ERS074914</text></g><g transform="rotate(296.36 365.45 209.40)"><text class="tB" x="527.95" y="211.40">M2-27685079</text></g><g transform="rotate(298.02 365.45 209.40)"><rect class="bR" x="527.95" y="207.30" width="33.40" height="4.20"/><text class="tR" x="527.95" y="211.40">ERS1791244</text></g><g transform="rotate(299.68 365.45 209.40)"><rect class="bR" x="527.95" y="207.30" width="33.40" height="4.20"/><text class="tR" x="527.95" y="211.40">ERS1791279</text></g><g transform="rotate(301.33 365.45 209.40)"><rect class="bR" x="527.95" y="207.30" width="30.23" height="4.20"/><text class="tR" x="527.95" y="211.40">ERS074941</text></g><g transform="rotate(302.99 365.45 209.40)"><rect class="bO" x="527.95" y="207.30" width="30.23" height="4.20"/><text class="tO" x="527.95" y="211.40">ERS074920</text></g><g transform="rotate(304.65 365.45 209.40)"><rect class="bR" x="527.95" y="207.30" width="33.40" height="4.20"/><text class="tR" x="527.95" y="211.40">ERS1791282</text></g><g transform="rotate(306.31 365.45 209.40)"><rect class="bT" x="527.95" y="207.30" width="33.40" height="4.20"/><text class="tT" x="527.95" y="211.40">SRR8183273</text></g><g transform="rotate(307.97 365.45 209.40)"><text class="tB" x="527.95" y="211.40">M7-27697400</text></g><g transform="rotate(309.63 365.45 209.40)"><rect class="bR" x="527.95" y="207.30" width="30.23" height="4.20"/><text class="tR" x="527.95" y="211.40">ERS074936</text></g><g transform="rotate(311.29 365.45 209.40)"><rect class="bC" x="527.95" y="207.30" width="33.40" height="4.20"/><text class="tC" x="527.95" y="211.40">ERS1791283</text></g><g transform="rotate(312.95 365.45 209.40)"><rect class="bO" x="527.95" y="207.30" width="30.23" height="4.20"/><text class="tO" x="527.95" y="211.40">ERS074949</text></g><g transform="rotate(314.60 365.45 209.40)"><rect class="bO" x="527.95" y="207.30" width="33.40" height="4.20"/><text class="tO" x="527.95" y="211.40">ERS1791248</text></g><g transform="rotate(316.26 365.45 209.40)"><rect class="bR" x="527.95" y="207.30" width="30.23" height="4.20"/><text class="tR" x="527.95" y="211.40">ERS074933</text></g><g transform="rotate(317.92 365.45 209.40)"><rect class="bO" x="527.95" y="207.30" width="33.40" height="4.20"/><text class="tO" x="527.95" y="211.40">ERS1791256</text></g><g transform="rotate(319.58 365.45 209.40)"><rect class="bR" x="527.95" y="207.30" width="33.40" height="4.20"/><text class="tR" x="527.95" y="211.40">ERS1791232</text></g><g transform="rotate(321.24 365.45 209.40)"><rect class="bR" x="527.95" y="207.30" width="33.40" height="4.20"/><text class="tR" x="527.95" y="211.40">ERS1791277</text></g><g transform="rotate(322.90 365.45 209.40)"><rect class="bR" x="527.95" y="207.30" width="33.40" height="4.20"/><text class="tR" x="527.95" y="211.40">ERS1791244</text></g><g transform="rotate(324.56 365.45 209.40)"><rect class="bO" x="527.95" y="207.30" width="33.40" height="4.20"/><text class="tO" x="527.95" y="211.40">SRR8183223</text></g><g transform="rotate(326.22 365.45 209.40)"><rect class="bT" x="527.95" y="207.30" width="30.23" height="4.20"/><text class="tT" x="527.95" y="211.40">ERS074913</text></g><g transform="rotate(327.87 365.45 209.40)"><rect class="bR" x="527.95" y="207.30" width="33.40" height="4.20"/><text class="tR" x="527.95" y="211.40">ERS1791226</text></g><g transform="rotate(329.53 365.45 209.40)"><text class="tB" x="527.95" y="211.40">M9-27681081</text></g><g transform="rotate(331.19 365.45 209.40)"><rect class="bT" x="527.95" y="207.30" width="33.40" height="4.20"/><text class="tT" x="527.95" y="211.40">ERS1791276</text></g><g transform="rotate(332.85 365.45 209.40)"><text class="tB" x="527.95" y="211.40">M10-27685207</text></g><g transform="rotate(334.51 365.45 209.40)"><rect class="bT" x="527.95" y="207.30" width="33.40" height="4.20"/><text class="tT" x="527.95" y="211.40">ERS1791256</text></g><g transform="rotate(336.17 365.45 209.40)"><rect class="bY" x="527.95" y="207.30" width="33.40" height="4.20"/><text class="tY" x="527.95" y="211.40">ERS1791229</text></g><g transform="rotate(337.83 365.45 209.40)"><rect class="bR" x="527.95" y="207.30" width="33.40" height="4.20"/><text class="tR" x="527.95" y="211.40">ERS1791251</text></g><g transform="rotate(339.49 365.45 209.40)"><rect class="bG" x="527.95" y="207.30" width="33.40" height="4.20"/><text class="tG" x="527.95" y="211.40">SRR8183297</text></g><g transform="rotate(341.15 365.45 209.40)"><rect class="bO" x="527.95" y="207.30" width="30.23" height="4.20"/><text class="tO" x="527.95" y="211.40">ERS074932</text></g><g transform="rotate(342.80 365.45 209.40)"><rect class="bR" x="527.95" y="207.30" width="33.40" height="4.20"/><text class="tR" x="527.95" y="211.40">SRR8183298</text></g><g transform="rotate(344.46 365.45 209.40)"><rect class="bG" x="527.95" y="207.30" width="33.40" height="4.20"/><text class="tG" x="527.95" y="211.40">ERS1791253</text></g><g transform="rotate(346.12 365.45 209.40)"><rect class="bO" x="527.95" y="207.30" width="30.23" height="4.20"/><text class="tO" x="527.95" y="211.40">ERS074921</text></g><g transform="rotate(347.78 365.45 209.40)"><rect class="bR" x="527.95" y="207.30" width="33.40" height="4.20"/><text class="tR" x="527.95" y="211.40">ERS1791246</text></g><g transform="rotate(349.44 365.45 209.40)"><rect class="bP" x="527.95" y="207.30" width="33.40" height="4.20"/><text class="tP" x="527.95" y="211.40">ERS1791236</text></g><g transform="rotate(351.10 365.45 209.40)"><rect class="bR" x="527.95" y="207.30" width="30.23" height="4.20"/><text class="tR" x="527.95" y="211.40">ERS074921</text></g><g transform="rotate(352.76 365.45 209.40)"><rect class="bO" x="527.95" y="207.30" width="33.40" height="4.20"/><text class="tO" x="527.95" y="211.40">ERS1791272</text></g><g transform="rotate(354.42 365.45 209.40)"><rect class="bO" x="527.95" y="207.30" width="30.23" height="4.20"/><text class="tO" x="527.95" y="211.40">ERS074945</text></g><g transform="rotate(356.07 365.45 209.40)"><rect class="bG" x="527.95" y="207.30" width="30.23" height="4.20"/><text class="tG" x="527.95" y="211.40">ERS549486</text></g><g transform="rotate(357.73 365.45 209.40)"><rect class="bG" x="527.95" y="207.30" width="30.23" height="4.20"/><text class="tG" x="527.95" y="211.40">ERS549493</text></g><g transform="rotate(359.39 365.45 209.40)"><rect class="bG" x="527.95" y="207.30" width="30.23" height="4.20"/><text class="tG" x="527.95" y="211.40">ERS549497</text></g><g transform="rotate(1.05 365.45 209.40)"><rect class="bG" x="527.95" y="207.30" width="30.23" height="4.20"/><text class="tG" x="527.95" y="211.40">ERS549491</text></g><g transform="rotate(2.71 365.45 209.40)"><rect class="bG" x="527.95" y="207.30" width="30.23" height="4.20"/><text class="tG" x="527.95" y="211.40">ERS549493</text></g><g transform="rotate(4.37 365.45 209.40)"><rect class="bG" x="527.95" y="207.30" width="30.23" height="4.20"/><text class="tG" x="527.95" y="211.40">ERS549486</text></g><g transform="rotate(6.03 365.45 209.40)"><rect class="bG" x="527.95" y="207.30" width="30.23" height="4.20"/><text class="tG" x="527.95" y="211.40">ERS549480</text></g><g transform="rotate(7.69 365.45 209.40)"><rect class="bG" x="527.95" y="207.30" width="30.23" height="4.20"/><text class="tG" x="527.95" y="211.40">ERS549481</text></g><g transform="rotate(9.34 365.45 209.40)"><rect class="bG" x="527.95" y="207.30" width="30.23" height="4.20"/><text class="tG" x="527.95" y="211.40">ERS549489</text></g><g transform="rotate(11.00 365.45 209.40)"><rect class="bG" x="527.95" y="207.30" width="30.23" height="4.20"/><text class="tG" x="527.95" y="211.40">ERS549481</text></g><g transform="rotate(12.66 365.45 209.40)"><rect class="bG" x="527.95" y="207.30" width="30.23" height="4.20"/><text class="tG" x="527.95" y="211.40">ERS549486</text></g><g transform="rotate(14.32 365.45 209.40)"><rect class="bG" x="527.95" y="207.30" width="30.23" height="4.20"/><text class="tG" x="527.95" y="211.40">ERS549496</text></g><g transform="rotate(15.98 365.45 209.40)"><rect class="bG" x="527.95" y="207.30" width="30.23" height="4.20"/><text class="tG" x="527.95" y="211.40">ERS549484</text></g><g transform="rotate(17.64 365.45 209.40)"><rect class="bG" x="527.95" y="207.30" width="30.23" height="4.20"/><text class="tG" x="527.95" y="211.40">ERS549482</text></g><g transform="rotate(19.30 365.45 209.40)"><rect class="bR" x="527.95" y="207.30" width="30.23" height="4.20"/><text class="tR" x="527.95" y="211.40">ERS074937</text></g><g transform="rotate(20.96 365.45 209.40)"><rect class="bG" x="527.95" y="207.30" width="30.23" height="4.20"/><text class="tG" x="527.95" y="211.40">ERS074949</text></g><g transform="rotate(22.62 365.45 209.40)"><text class="tB" x="527.95" y="211.40">ERS1791277</text></g><g transform="rotate(24.27 365.45 209.40)"><rect class="bO" x="527.95" y="207.30" width="33.40" height="4.20"/><text class="tO" x="527.95" y="211.40">ERS1791222</text></g><g transform="rotate(25.93 365.45 209.40)"><rect class="bR" x="527.95" y="207.30" width="30.23" height="4.20"/><text class="tR" x="527.95" y="211.40">ERS074910</text></g><g transform="rotate(27.59 365.45 209.40)"><rect class="bG" x="527.95" y="207.30" width="30.23" height="4.20"/><text class="tG" x="527.95" y="211.40">ERS074937</text></g><g transform="rotate(29.25 365.45 209.40)"><rect class="bG" x="527.95" y="207.30" width="33.40" height="4.20"/><text class="tG" x="527.95" y="211.40">ERS1791240</text></g><g transform="rotate(30.91 365.45 209.40)"><rect class="bO" x="527.95" y="207.30" width="33.40" height="4.20"/><text class="tO" x="527.95" y="211.40">ERS1791227</text></g><g transform="rotate(32.57 365.45 209.40)"><rect class="bR" x="527.95" y="207.30" width="33.40" height="4.20"/><text class="tR" x="527.95" y="211.40">SRR8183250</text></g><g transform="rotate(34.23 365.45 209.40)"><rect class="bR" x="527.95" y="207.30" width="33.40" height="4.20"/><text class="tR" x="527.95" y="211.40">ERS1791237</text></g><g transform="rotate(35.89 365.45 209.40)"><rect class="bT" x="527.95" y="207.30" width="33.40" height="4.20"/><text class="tT" x="527.95" y="211.40">ERS1791265</text></g><g transform="rotate(37.54 365.45 209.40)"><rect class="bT" x="527.95" y="207.30" width="30.23" height="4.20"/><text class="tT" x="527.95" y="211.40">ERS074940</text></g><g transform="rotate(39.20 365.45 209.40)"><rect class="bT" x="527.95" y="207.30" width="30.23" height="4.20"/><text class="tT" x="527.95" y="211.40">ERS074921</text></g><g transform="rotate(40.86 365.45 209.40)"><rect class="bT" x="527.95" y="207.30" width="30.23" height="4.20"/><text class="tT" x="527.95" y="211.40">ERS074910</text></g><g transform="rotate(42.52 365.45 209.40)"><rect class="bK" x="527.95" y="207.30" width="33.40" height="4.20"/><text class="tK" x="527.95" y="211.40">ERS1791225</text></g><g transform="rotate(44.18 365.45 209.40)"><rect class="bG" x="527.95" y="207.30" width="33.40" height="4.20"/><text class="tG" x="527.95" y="211.40">ERS1791233</text></g><g transform="rotate(45.84 365.45 209.40)"><rect class="bG" x="527.95" y="207.30" width="30.23" height="4.20"/><text class="tG" x="527.95" y="211.40">ERS074929</text></g><g transform="rotate(47.50 365.45 209.40)"><rect class="bG" x="527.95" y="207.30" width="33.40" height="4.20"/><text class="tG" x="527.95" y="211.40">SRR8183239</text></g><g transform="rotate(49.16 365.45 209.40)"><rect class="bG" x="527.95" y="207.30" width="33.40" height="4.20"/><text class="tG" x="527.95" y="211.40">ERS1791204</text></g><g transform="rotate(50.81 365.45 209.40)"><rect class="bG" x="527.95" y="207.30" width="33.40" height="4.20"/><text class="tG" x="527.95" y="211.40">SRR8183290</text></g><g transform="rotate(52.47 365.45 209.40)"><rect class="bR" x="527.95" y="207.30" width="33.40" height="4.20"/><text class="tR" x="527.95" y="211.40">SRR8183208</text></g><g transform="rotate(54.13 365.45 209.40)"><rect class="bC" x="527.95" y="207.30" width="33.40" height="4.20"/><text class="tC" x="527.95" y="211.40">ERS1791203</text></g><g transform="rotate(55.79 365.45 209.40)"><rect class="bC" x="527.95" y="207.30" width="33.40" height="4.20"/><text class="tC" x="527.95" y="211.40">SRR8183285</text></g><g transform="rotate(57.45 365.45 209.40)"><rect class="bC" x="527.95" y="207.30" width="33.40" height="4.20"/><text class="tC" x="527.95" y="211.40">ERS1791267</text></g><g transform="rotate(59.11 365.45 209.40)"><text class="tB" x="527.95" y="211.40">M9-27681148</text></g><g transform="rotate(60.77 365.45 209.40)"><text class="tB" x="527.95" y="211.40">M2-27684442</text></g><g transform="rotate(62.43 365.45 209.40)"><text class="tB" x="527.95" y="211.40">M2-27696405</text></g><g transform="rotate(64.09 365.45 209.40)"><rect class="bC" x="527.95" y="207.30" width="33.40" height="4.20"/><text class="tC" x="527.95" y="211.40">ERS1791287</text></g><g transform="rotate(65.74 365.45 209.40)"><rect class="bC" x="527.95" y="207.30" width="30.23" height="4.20"/><text class="tC" x="527.95" y="211.40">ERS074938</text></g><g transform="rotate(67.40 365.45 209.40)"><rect class="bC" x="527.95" y="207.30" width="33.40" height="4.20"/><text class="tC" x="527.95" y="211.40">ERS1791258</text></g><g transform="rotate(69.06 365.45 209.40)"><rect class="bC" x="527.95" y="207.30" width="33.40" height="4.20"/><text class="tC" x="527.95" y="211.40">ERS1791203</text></g><g transform="rotate(70.72 365.45 209.40)"><rect class="bC" x="527.95" y="207.30" width="30.23" height="4.20"/><text class="tC" x="527.95" y="211.40">ERS074922</text></g><g transform="rotate(72.38 365.45 209.40)"><rect class="bC" x="527.95" y="207.30" width="30.23" height="4.20"/><text class="tC" x="527.95" y="211.40">ERS074918</text></g><g transform="rotate(74.04 365.45 209.40)"><rect class="bT" x="527.95" y="207.30" width="30.23" height="4.20"/><text class="tT" x="527.95" y="211.40">ERS074930</text></g><g transform="rotate(75.70 365.45 209.40)"><rect class="bC" x="527.95" y="207.30" width="30.23" height="4.20"/><text class="tC" x="527.95" y="211.40">ERS074946</text></g><g transform="rotate(77.36 365.45 209.40)"><rect class="bC" x="527.95" y="207.30" width="30.23" height="4.20"/><text class="tC" x="527.95" y="211.40">ERS074942</text></g><g transform="rotate(79.01 365.45 209.40)"><rect class="bC" x="527.95" y="207.30" width="33.40" height="4.20"/><text class="tC" x="527.95" y="211.40">ERS1791227</text></g><g transform="rotate(80.67 365.45 209.40)"><rect class="bC" x="527.95" y="207.30" width="33.40" height="4.20"/><text class="tC" x="527.95" y="211.40">ERS1791218</text></g><g transform="rotate(82.33 365.45 209.40)"><rect class="bC" x="527.95" y="207.30" width="33.40" height="4.20"/><text class="tC" x="527.95" y="211.40">ERS1791271</text></g><g transform="rotate(83.99 365.45 209.40)"><rect class="bC" x="527.95" y="207.30" width="33.40" height="4.20"/><text class="tC" x="527.95" y="211.40">ERS1791286</text></g><g transform="rotate(85.65 365.45 209.40)"><rect class="bC" x="527.95" y="207.30" width="33.40" height="4.20"/><text class="tC" x="527.95" y="211.40">ERS1791246</text></g><g transform="rotate(87.31 365.45 209.40)"><rect class="bC" x="527.95" y="207.30" width="30.23" height="4.20"/><text class="tC" x="527.95" y="211.40">ERS074946</text></g><g transform="rotate(88.97 365.45 209.40)"><rect class="bC" x="527.95" y="207.30" width="33.40" height="4.20"/><text class="tC" x="527.95" y="211.40">SRR8183283</text></g><g transform="rotate(270.63 365.45 209.40)"><rect class="bC" x="169.55" y="207.30" width="33.40" height="4.20"/><text class="tC" x="202.95" y="211.40" text-anchor="end">ERS1791270</text></g><g transform="rotate(272.28 365.45 209.40)"><rect class="bC" x="172.72" y="207.30" width="30.23" height="4.20"/><text class="tC" x="202.95" y="211.40" text-anchor="end">ERS074912</text></g><g transform="rotate(273.94 365.45 209.40)"><rect class="bC" x="172.72" y="207.30" width="30.23" height="4.20"/><text class="tC" x="202.95" y="211.40" text-anchor="end">ERS074945</text></g><g transform="rotate(275.60 365.45 209.40)"><rect class="bC" x="169.55" y="207.30" width="33.40" height="4.20"/><text class="tC" x="202.95" y="211.40" text-anchor="end">ERS1791237</text></g><g transform="rotate(277.26 365.45 209.40)"><rect class="bC" x="169.55" y="207.30" width="33.40" height="4.20"/><text class="tC" x="202.95" y="211.40" text-anchor="end">SRR8183250</text></g><g transform="rotate(278.92 365.45 209.40)"><rect class="bC" x="169.55" y="207.30" width="33.40" height="4.20"/><text class="tC" x="202.95" y="211.40" text-anchor="end">SRR8183229</text></g><g transform="rotate(280.58 365.45 209.40)"><rect class="bC" x="169.55" y="207.30" width="33.40" height="4.20"/><text class="tC" x="202.95" y="211.40" text-anchor="end">SRR8183285</text></g><g transform="rotate(282.24 365.45 209.40)"><rect class="bR" x="169.55" y="207.30" width="33.40" height="4.20"/><text class="tR" x="202.95" y="211.40" text-anchor="end">SRR8183208</text></g><g transform="rotate(283.90 365.45 209.40)"><rect class="bT" x="172.72" y="207.30" width="30.23" height="4.20"/><text class="tT" x="202.95" y="211.40" text-anchor="end">ERS074924</text></g><g transform="rotate(285.56 365.45 209.40)"><rect class="bR" x="169.55" y="207.30" width="33.40" height="4.20"/><text class="tR" x="202.95" y="211.40" text-anchor="end">SRR8183255</text></g><g transform="rotate(287.21 365.45 209.40)"><rect class="bR" x="169.55" y="207.30" width="33.40" height="4.20"/><text class="tR" x="202.95" y="211.40" text-anchor="end">ERS1791261</text></g><g transform="rotate(288.87 365.45 209.40)"><rect class="bR" x="172.72" y="207.30" width="30.23" height="4.20"/><text class="tR" x="202.95" y="211.40" text-anchor="end">ERS074927</text></g><g transform="rotate(290.53 365.45 209.40)"><rect class="bR" x="172.72" y="207.30" width="30.23" height="4.20"/><text class="tR" x="202.95" y="211.40" text-anchor="end">ERS074914</text></g><g transform="rotate(292.19 365.45 209.40)"><rect class="bO" x="169.55" y="207.30" width="33.40" height="4.20"/><text class="tO" x="202.95" y="211.40" text-anchor="end">ERS1791226</text></g><g transform="rotate(293.85 365.45 209.40)"><rect class="bR" x="169.55" y="207.30" width="33.40" height="4.20"/><text class="tR" x="202.95" y="211.40" text-anchor="end">ERS1791274</text></g><g transform="rotate(295.51 365.45 209.40)"><rect class="bO" x="169.55" y="207.30" width="33.40" height="4.20"/><text class="tO" x="202.95" y="211.40" text-anchor="end">ERS1791254</text></g><g transform="rotate(297.17 365.45 209.40)"><rect class="bO" x="172.72" y="207.30" width="30.23" height="4.20"/><text class="tO" x="202.95" y="211.40" text-anchor="end">ERS074915</text></g><g transform="rotate(298.83 365.45 209.40)"><rect class="bO" x="169.55" y="207.30" width="33.40" height="4.20"/><text class="tO" x="202.95" y="211.40" text-anchor="end">ERS1791260</text></g><g transform="rotate(300.48 365.45 209.40)"><rect class="bT" x="169.55" y="207.30" width="33.40" height="4.20"/><text class="tT" x="202.95" y="211.40" text-anchor="end">ERS1791255</text></g><g transform="rotate(302.14 365.45 209.40)"><rect class="bT" x="169.55" y="207.30" width="33.40" height="4.20"/><text class="tT" x="202.95" y="211.40" text-anchor="end">ERS1791269</text></g><g transform="rotate(303.80 365.45 209.40)"><rect class="bT" x="169.55" y="207.30" width="33.40" height="4.20"/><text class="tT" x="202.95" y="211.40" text-anchor="end">ERS1791205</text></g><g transform="rotate(305.46 365.45 209.40)"><rect class="bT" x="169.55" y="207.30" width="33.40" height="4.20"/><text class="tT" x="202.95" y="211.40" text-anchor="end">ERS1791275</text></g><g transform="rotate(307.12 365.45 209.40)"><rect class="bT" x="169.55" y="207.30" width="33.40" height="4.20"/><text class="tT" x="202.95" y="211.40" text-anchor="end">SRR8183203</text></g><g transform="rotate(308.78 365.45 209.40)"><rect class="bP" x="172.72" y="207.30" width="30.23" height="4.20"/><text class="tP" x="202.95" y="211.40" text-anchor="end">ERS074930</text></g><g transform="rotate(310.44 365.45 209.40)"><rect class="bR" x="169.55" y="207.30" width="33.40" height="4.20"/><text class="tR" x="202.95" y="211.40" text-anchor="end">SRR8183242</text></g><g transform="rotate(312.10 365.45 209.40)"><rect class="bP" x="169.55" y="207.30" width="33.40" height="4.20"/><text class="tP" x="202.95" y="211.40" text-anchor="end">ERS1791210</text></g><g transform="rotate(313.75 365.45 209.40)"><rect class="bP" x="169.55" y="207.30" width="33.40" height="4.20"/><text class="tP" x="202.95" y="211.40" text-anchor="end">ERS1791256</text></g><g transform="rotate(315.41 365.45 209.40)"><rect class="bR" x="169.55" y="207.30" width="33.40" height="4.20"/><text class="tR" x="202.95" y="211.40" text-anchor="end">ERS1791212</text></g><g transform="rotate(317.07 365.45 209.40)"><rect class="bT" x="169.55" y="207.30" width="33.40" height="4.20"/><text class="tT" x="202.95" y="211.40" text-anchor="end">SRR8183256</text></g><g transform="rotate(318.73 365.45 209.40)"><rect class="bY" x="169.55" y="207.30" width="33.40" height="4.20"/><text class="tY" x="202.95" y="211.40" text-anchor="end">ERS1791268</text></g><g transform="rotate(320.39 365.45 209.40)"><rect class="bY" x="169.55" y="207.30" width="33.40" height="4.20"/><text class="tY" x="202.95" y="211.40" text-anchor="end">ERS1791265</text></g><g transform="rotate(322.05 365.45 209.40)"><rect class="bY" x="169.55" y="207.30" width="33.40" height="4.20"/><text class="tY" x="202.95" y="211.40" text-anchor="end">ERS1791272</text></g><g transform="rotate(323.71 365.45 209.40)"><rect class="bY" x="172.72" y="207.30" width="30.23" height="4.20"/><text class="tY" x="202.95" y="211.40" text-anchor="end">ERS074927</text></g><g transform="rotate(325.37 365.45 209.40)"><rect class="bY" x="169.55" y="207.30" width="33.40" height="4.20"/><text class="tY" x="202.95" y="211.40" text-anchor="end">ERS1791222</text></g><g transform="rotate(327.03 365.45 209.40)"><rect class="bY" x="169.55" y="207.30" width="33.40" height="4.20"/><text class="tY" x="202.95" y="211.40" text-anchor="end">ERS1791251</text></g><g transform="rotate(328.68 365.45 209.40)"><rect class="bY" x="169.55" y="207.30" width="33.40" height="4.20"/><text class="tY" x="202.95" y="211.40" text-anchor="end">ERS1791242</text></g><g transform="rotate(330.34 365.45 209.40)"><rect class="bY" x="172.72" y="207.30" width="30.23" height="4.20"/><text class="tY" x="202.95" y="211.40" text-anchor="end">ERS074924</text></g><g transform="rotate(332.00 365.45 209.40)"><rect class="bY" x="169.55" y="207.30" width="33.40" height="4.20"/><text class="tY" x="202.95" y="211.40" text-anchor="end">SRR8183250</text></g><g transform="rotate(333.66 365.45 209.40)"><rect class="bY" x="169.55" y="207.30" width="33.40" height="4.20"/><text class="tY" x="202.95" y="211.40" text-anchor="end">ERS1791216</text></g><g transform="rotate(335.32 365.45 209.40)"><rect class="bY" x="169.55" y="207.30" width="33.40" height="4.20"/><text class="tY" x="202.95" y="211.40" text-anchor="end">ERS1791290</text></g><g transform="rotate(336.98 365.45 209.40)"><rect class="bY" x="169.55" y="207.30" width="33.40" height="4.20"/><text class="tY" x="202.95" y="211.40" text-anchor="end">ERS1791263</text></g><g transform="rotate(338.64 365.45 209.40)"><rect class="bY" x="169.55" y="207.30" width="33.40" height="4.20"/><text class="tY" x="202.95" y="211.40" text-anchor="end">SRR8183234</text></g><g transform="rotate(340.30 365.45 209.40)"><rect class="bY" x="169.55" y="207.30" width="33.40" height="4.20"/><text class="tY" x="202.95" y="211.40" text-anchor="end">ERS1791238</text></g><g transform="rotate(341.95 365.45 209.40)"><rect class="bY" x="169.55" y="207.30" width="33.40" height="4.20"/><text class="tY" x="202.95" y="211.40" text-anchor="end">ERS1791287</text></g><g transform="rotate(343.61 365.45 209.40)"><rect class="bY" x="169.55" y="207.30" width="33.40" height="4.20"/><text class="tY" x="202.95" y="211.40" text-anchor="end">SRR8183278</text></g><g transform="rotate(345.27 365.45 209.40)"><rect class="bY" x="172.72" y="207.30" width="30.23" height="4.20"/><text class="tY" x="202.95" y="211.40" text-anchor="end">ERS074912</text></g><g transform="rotate(346.93 365.45 209.40)"><rect class="bY" x="169.55" y="207.30" width="33.40" height="4.20"/><text class="tY" x="202.95" y="211.40" text-anchor="end">ERS1791233</text></g><g transform="rotate(348.59 365.45 209.40)"><rect class="bY" x="169.55" y="207.30" width="33.40" height="4.20"/><text class="tY" x="202.95" y="211.40" text-anchor="end">ERS1791234</text></g><g transform="rotate(350.25 365.45 209.40)"><rect class="bY" x="169.55" y="207.30" width="33.40" height="4.20"/><text class="tY" x="202.95" y="211.40" text-anchor="end">ERS1791228</text></g><g transform="rotate(351.91 365.45 209.40)"><rect class="bO" x="169.55" y="207.30" width="33.40" height="4.20"/><text class="tO" x="202.95" y="211.40" text-anchor="end">SRR8183267</text></g><g transform="rotate(353.57 365.45 209.40)"><rect class="bY" x="169.55" y="207.30" width="33.40" height="4.20"/><text class="tY" x="202.95" y="211.40" text-anchor="end">SRR8183265</text></g><g transform="rotate(355.22 365.45 209.40)"><rect class="bY" x="169.55" y="207.30" width="33.40" height="4.20"/><text class="tY" x="202.95" y="211.40" text-anchor="end">ERS1791254</text></g><g transform="rotate(356.88 365.45 209.40)"><rect class="bC" x="169.55" y="207.30" width="33.40" height="4.20"/><text class="tC" x="202.95" y="211.40" text-anchor="end">ERS1791275</text></g><g transform="rotate(358.54 365.45 209.40)"><rect class="bC" x="169.55" y="207.30" width="33.40" height="4.20"/><text class="tC" x="202.95" y="211.40" text-anchor="end">SRR8183270</text></g><g transform="rotate(360.20 365.45 209.40)"><rect class="bC" x="169.55" y="207.30" width="33.40" height="4.20"/><text class="tC" x="202.95" y="211.40" text-anchor="end">SRR8183279</text></g><g transform="rotate(361.86 365.45 209.40)"><rect class="bY" x="172.72" y="207.30" width="30.23" height="4.20"/><text class="tY" x="202.95" y="211.40" text-anchor="end">ERS074915</text></g><g transform="rotate(363.52 365.45 209.40)"><rect class="bY" x="169.55" y="207.30" width="33.40" height="4.20"/><text class="tY" x="202.95" y="211.40" text-anchor="end">ERS1791251</text></g><g transform="rotate(365.18 365.45 209.40)"><rect class="bY" x="169.55" y="207.30" width="33.40" height="4.20"/><text class="tY" x="202.95" y="211.40" text-anchor="end">ERS1791283</text></g><g transform="rotate(366.84 365.45 209.40)"><rect class="bY" x="172.72" y="207.30" width="30.23" height="4.20"/><text class="tY" x="202.95" y="211.40" text-anchor="end">ERS074922</text></g><g transform="rotate(368.50 365.45 209.40)"><rect class="bY" x="169.55" y="207.30" width="33.40" height="4.20"/><text class="tY" x="202.95" y="211.40" text-anchor="end">ERS1791249</text></g><g transform="rotate(370.15 365.45 209.40)"><rect class="bY" x="169.55" y="207.30" width="33.40" height="4.20"/><text class="tY" x="202.95" y="211.40" text-anchor="end">SRR8183223</text></g><g transform="rotate(371.81 365.45 209.40)"><rect class="bY" x="169.55" y="207.30" width="33.40" height="4.20"/><text class="tY" x="202.95" y="211.40" text-anchor="end">SRR8183285</text></g><g transform="rotate(373.47 365.45 209.40)"><rect class="bY" x="169.55" y="207.30" width="33.40" height="4.20"/><text class="tY" x="202.95" y="211.40" text-anchor="end">SRR8183297</text></g><g transform="rotate(375.13 365.45 209.40)"><rect class="bY" x="169.55" y="207.30" width="33.40" height="4.20"/><text class="tY" x="202.95" y="211.40" text-anchor="end">ERS1791202</text></g><g transform="rotate(376.79 365.45 209.40)"><rect class="bY" x="169.55" y="207.30" width="33.40" height="4.20"/><text class="tY" x="202.95" y="211.40" text-anchor="end">ERS1791266</text></g><g transform="rotate(378.45 365.45 209.40)"><rect class="bY" x="169.55" y="207.30" width="33.40" height="4.20"/><text class="tY" x="202.95" y="211.40" text-anchor="end">ERS1791212</text></g></g>
<path d="M572.73 192.16A208.00 208.00 0 0 1 562.74 275.29" stroke="#0a8a0a" stroke-width="5" fill="none"/>
<path d="M494.52 372.51A208.00 208.00 0 0 1 324.31 413.29" stroke="#3fd4c8" stroke-width="5" fill="none"/>
<path d="M324.31 413.29A208.00 208.00 0 0 1 257.35 387.10" stroke="#f02010" stroke-width="5" fill="none"/>
<path d="M242.34 377.05A208.00 208.00 0 0 1 219.44 357.54" stroke="#8a00e0" stroke-width="5" fill="none"/>
<path d="M211.11 348.84A208.00 208.00 0 0 1 169.11 140.73" stroke="#ffff00" stroke-width="5" fill="none"/>
<rect x="483.39" y="205.5" width="24.36" height="8.5" fill="#fff"/>
<text x="581.40" y="231.20" font-size="8.1" font-weight="bold" fill="#222">Africa</text>
<text x="458.47" y="413.00" font-size="8.1" font-weight="bold" fill="#222">Southeast Asia</text>
<text x="224.81" y="414.60" font-size="8.1" font-weight="bold" fill="#222">Europe/Australia</text>
<text x="172.20" y="377.00" font-size="8.1" font-weight="bold" fill="#222">Western Asia</text>
<text x="103.10" y="249.90" font-size="8.1" font-weight="bold" fill="#222">Eastern Asia</text>
<text x="484.16" y="212.80" font-size="8.3" font-weight="bold" fill="#222">EBV1</text>
<text x="251.61" y="116.00" font-size="8.3" font-weight="bold" fill="#222">EBV2</text>
<text x="3.77" y="22.5" font-size="7" font-weight="bold" fill="#555">Tree scale: 0.01</text>
<path d="M61.46 19.9H105.76 M61.46 18.4V21.4 M105.76 18.4V21.4 M83.61 19.2V20.6" stroke="#888" stroke-width="0.9" fill="none"/>
<rect x="9.19" y="59.5" width="95.35" height="160.5" fill="#fff" stroke="#f0f0f0" stroke-width="0.8"/>
<text x="12.07" y="69.9" font-size="8.9" font-weight="bold" fill="#222">Geographical Region</text>
<path d="M11.41 74.8H102.21" stroke="#9a9a9a" stroke-width="1.3"/>
<rect x="12.40" y="79.20" width="11.63" height="11.6" fill="#008000" stroke="#0a5a0a" stroke-width="0.8"/>
<text x="30.23" y="87.70" font-size="8.6" fill="#222">Africa</text>
<rect x="12.40" y="96.90" width="11.63" height="11.6" fill="#ff7f00" stroke="#9a5a20" stroke-width="0.8"/>
<text x="30.23" y="105.40" font-size="8.6" fill="#222">Australia</text>
<rect x="12.40" y="114.60" width="11.63" height="11.6" fill="#ffff00" stroke="#9a9a30" stroke-width="0.8"/>
<text x="30.23" y="123.10" font-size="8.6" fill="#222">Eastern Asia</text>
<rect x="12.40" y="132.30" width="11.63" height="11.6" fill="#ff2000" stroke="#9a2a20" stroke-width="0.8"/>
<text x="30.23" y="140.80" font-size="8.6" fill="#222">Europe</text>
<rect x="12.40" y="150.00" width="11.63" height="11.6" fill="#fdd5a5" stroke="#8a7a6a" stroke-width="0.8"/>
<text x="30.23" y="158.50" font-size="8.6" fill="#222">North America</text>
<rect x="12.40" y="167.70" width="11.63" height="11.6" fill="#0000ff" stroke="#20208a" stroke-width="0.8"/>
<text x="30.23" y="176.20" font-size="8.6" fill="#222">South America</text>
<rect x="12.40" y="185.40" width="11.63" height="11.6" fill="#40e0d0" stroke="#4a8a8a" stroke-width="0.8"/>
<text x="30.23" y="193.90" font-size="8.6" fill="#222">Southeast Asia</text>
<rect x="12.40" y="203.10" width="11.63" height="11.6" fill="#8000e0" stroke="#50208a" stroke-width="0.8"/>
<text x="30.23" y="211.60" font-size="8.6" fill="#222">Western Asia</text>
</g></svg></body></html>
